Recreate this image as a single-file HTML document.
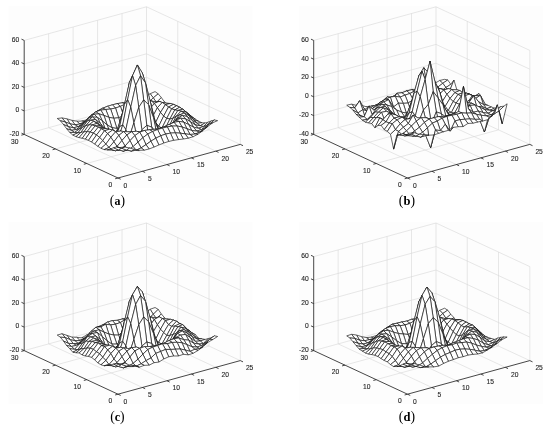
<!DOCTYPE html>
<html><head><meta charset="utf-8"><style>html,body{margin:0;padding:0;background:#fff;}svg{display:block}</style></head>
<body><svg width="550" height="430" viewBox="0 0 550 430">
<rect x="8.5" y="6" width="244" height="182" fill="#fdfdfd"/><rect x="299.0" y="6" width="244" height="182" fill="#fdfdfd"/><rect x="8.5" y="222.2" width="244" height="182" fill="#fdfdfd"/><rect x="299.0" y="222.2" width="244" height="182" fill="#fdfdfd"/>
<path d="M142.46 171.28L48.65 127.69M166.92 164.56L73.11 120.97M191.38 157.84L97.57 114.25M215.84 151.12L122.03 107.53M240.3 144.4L146.49 100.81M86.73 163.47L209.03 129.87M55.46 148.94L177.76 115.34M24.19 134.41L146.49 100.81M48.65 127.69L48.65 33.69M73.11 120.97L73.11 26.97M97.57 114.25L97.57 20.25M122.03 107.53L122.03 13.53M146.49 100.81L146.49 6.81M24.19 110.91L146.49 77.31M24.19 87.41L146.49 53.81M24.19 63.91L146.49 30.31M24.19 40.41L146.49 6.81M240.3 144.4L240.3 50.4M209.03 129.87L209.03 35.87M177.76 115.34L177.76 21.34M240.3 120.9L146.49 77.31M240.3 97.4L146.49 53.81M240.3 73.9L146.49 30.31M240.3 50.4L146.49 6.81" stroke="#d6d6d6" stroke-width="0.6" fill="none"/>
<path d="M118 178L240.3 144.4M118 178L24.19 134.41M24.19 134.41L24.19 40.41M118 178L120.72 179.26M142.46 171.28L145.18 172.54M166.92 164.56L169.64 165.82M191.38 157.84L194.1 159.1M215.84 151.12L218.56 152.38M240.3 144.4L243.02 145.66M118 178L115.11 178.79M86.73 163.47L83.84 164.26M55.46 148.94L52.57 149.73M24.19 134.41L21.3 135.2M24.19 134.41L21.47 133.15M24.19 110.91L21.47 109.65M24.19 87.41L21.47 86.15M24.19 63.91L21.47 62.65M24.19 40.41L21.47 39.15" stroke="#262626" stroke-width="0.85" fill="none"/>
<g fill="#fff" stroke="#111" stroke-width="0.65" stroke-linejoin="round"><path d="M153.3 97.82L158.19 93.83L155.07 91.61L150.17 93.72Z"/><path d="M148.41 102.35L153.3 97.82L150.17 93.72L145.28 97.36Z"/><path d="M156.43 102.46L161.32 97.58L158.19 93.83L153.3 97.82Z"/><path d="M143.52 105.98L148.41 102.35L145.28 97.36L140.39 101.49Z"/><path d="M151.54 106.29L156.43 102.46L153.3 97.82L148.41 102.35Z"/><path d="M159.55 106.2L164.45 101.82L161.32 97.58L156.43 102.46Z"/><path d="M138.62 107.94L143.52 105.98L140.39 101.49L135.5 105.1Z"/><path d="M146.64 107.86L151.54 106.29L148.41 102.35L143.52 105.98Z"/><path d="M154.66 107.97L159.55 106.2L156.43 102.46L151.54 106.29Z"/><path d="M162.68 108.26L167.57 105.54L164.45 101.82L159.55 106.2Z"/><path d="M133.73 108.3L138.62 107.94L135.5 105.1L130.6 107.65Z"/><path d="M141.75 107.24L146.64 107.86L143.52 105.98L138.62 107.94Z"/><path d="M149.77 106.87L154.66 107.97L151.54 106.29L146.64 107.86Z"/><path d="M157.79 107.46L162.68 108.26L159.55 106.2L154.66 107.97Z"/><path d="M165.81 108.74L170.7 108.19L167.57 105.54L162.68 108.26Z"/><path d="M128.84 107.73L133.73 108.3L130.6 107.65L125.71 109.14Z"/><path d="M136.86 105.45L141.75 107.24L138.62 107.94L133.73 108.3Z"/><path d="M144.88 104.2L149.77 106.87L146.64 107.86L141.75 107.24Z"/><path d="M152.9 104.31L157.79 107.46L154.66 107.97L149.77 106.87Z"/><path d="M160.92 105.77L165.81 108.74L162.68 108.26L157.79 107.46Z"/><path d="M168.94 108.28L173.83 109.8L170.7 108.19L165.81 108.74Z"/><path d="M123.95 107.01L128.84 107.73L125.71 109.14L120.82 109.95Z"/><path d="M131.97 103.7L136.86 105.45L133.73 108.3L128.84 107.73Z"/><path d="M139.99 101.84L144.88 104.2L141.75 107.24L136.86 105.45Z"/><path d="M148 101.36L152.9 104.31L149.77 106.87L144.88 104.2Z"/><path d="M156.02 102.06L160.92 105.77L157.79 107.46L152.9 104.31Z"/><path d="M164.04 104.13L168.94 108.28L165.81 108.74L160.92 105.77Z"/><path d="M172.06 107.66L176.95 110.72L173.83 109.8L168.94 108.28Z"/><path d="M119.06 106.67L123.95 107.01L120.82 109.95L115.93 110.54Z"/><path d="M127.08 102.77L131.97 103.7L128.84 107.73L123.95 107.01Z"/><path d="M135.09 101.06L139.99 101.84L136.86 105.45L131.97 103.7Z"/><path d="M143.11 100.78L148 101.36L144.88 104.2L139.99 101.84Z"/><path d="M151.13 100.89L156.02 102.06L152.9 104.31L148 101.36Z"/><path d="M159.15 101.38L164.04 104.13L160.92 105.77L156.02 102.06Z"/><path d="M167.17 103.32L172.06 107.66L168.94 108.28L164.04 104.13Z"/><path d="M175.19 107.43L180.08 111.41L176.95 110.72L172.06 107.66Z"/><path d="M114.16 106.97L119.06 106.67L115.93 110.54L111.04 111.28Z"/><path d="M122.18 102.84L127.08 102.77L123.95 107.01L119.06 106.67Z"/><path d="M130.2 102.03L135.09 101.06L131.97 103.7L127.08 102.77Z"/><path d="M138.22 103.12L143.11 100.78L139.99 101.84L135.09 101.06Z"/><path d="M146.24 103.86L151.13 100.89L148 101.36L143.11 100.78Z"/><path d="M154.26 103.34L159.15 101.38L156.02 102.06L151.13 100.89Z"/><path d="M162.28 102.47L167.17 103.32L164.04 104.13L159.15 101.38Z"/><path d="M170.3 103.49L175.19 107.43L172.06 107.66L167.17 103.32Z"/><path d="M178.32 107.84L183.21 112.26L180.08 111.41L175.19 107.43Z"/><path d="M109.27 107.97L114.16 106.97L111.04 111.28L106.15 112.4Z"/><path d="M117.29 103.64L122.18 102.84L119.06 106.67L114.16 106.97Z"/><path d="M125.31 104.1L130.2 102.03L127.08 102.77L122.18 102.84Z"/><path d="M133.33 107.37L138.22 103.12L135.09 101.06L130.2 102.03Z"/><path d="M141.35 109.99L146.24 103.86L143.11 100.78L138.22 103.12Z"/><path d="M149.37 110.1L154.26 103.34L151.13 100.89L146.24 103.86Z"/><path d="M157.39 107.7L162.28 102.47L159.15 101.38L154.26 103.34Z"/><path d="M165.41 104.64L170.3 103.49L167.17 103.32L162.28 102.47Z"/><path d="M173.42 104.4L178.32 107.84L175.19 107.43L170.3 103.49Z"/><path d="M181.44 108.95L186.34 113.49L183.21 112.26L178.32 107.84Z"/><path d="M104.38 109.66L109.27 107.97L106.15 112.4L101.25 113.97Z"/><path d="M112.4 104.84L117.29 103.64L114.16 106.97L109.27 107.97Z"/><path d="M120.42 106.33L125.31 104.1L122.18 102.84L117.29 103.64Z"/><path d="M128.44 111.94L133.33 107.37L130.2 102.03L125.31 104.1Z"/><path d="M136.46 116.84L141.35 109.99L138.22 103.12L133.33 107.37Z"/><path d="M144.47 118.63L149.37 110.1L146.24 103.86L141.35 109.99Z"/><path d="M152.49 117.06L157.39 107.7L154.26 103.34L149.37 110.1Z"/><path d="M160.51 112.38L165.41 104.64L162.28 102.47L157.39 107.7Z"/><path d="M168.53 106.98L173.42 104.4L170.3 103.49L165.41 104.64Z"/><path d="M176.55 105.72L181.44 108.95L178.32 107.84L173.42 104.4Z"/><path d="M184.57 110.75L189.46 115.17L186.34 113.49L181.44 108.95Z"/><path d="M99.49 112.05L104.38 109.66L101.25 113.97L96.36 115.91Z"/><path d="M107.51 106.32L112.4 104.84L109.27 107.97L104.38 109.66Z"/><path d="M115.53 108.05L120.42 106.33L117.29 103.64L112.4 104.84Z"/><path d="M123.55 115.59L128.44 111.94L125.31 104.1L120.42 106.33Z"/><path d="M131.56 122.31L136.46 116.84L133.33 107.37L128.44 111.94Z"/><path d="M139.58 125.16L144.47 118.63L141.35 109.99L136.46 116.84Z"/><path d="M147.6 125.27L152.49 117.06L149.37 110.1L144.47 118.63Z"/><path d="M155.62 122.64L160.51 112.38L157.39 107.7L152.49 117.06Z"/><path d="M163.64 116.14L168.53 106.98L165.41 104.64L160.51 112.38Z"/><path d="M171.66 108.81L176.55 105.72L173.42 104.4L168.53 106.98Z"/><path d="M179.68 107.3L184.57 110.75L181.44 108.95L176.55 105.72Z"/><path d="M187.7 113.24L192.59 117.22L189.46 115.17L184.57 110.75Z"/><path d="M94.6 115.07L99.49 112.05L96.36 115.91L91.47 118.02Z"/><path d="M102.62 108.21L107.51 106.32L104.38 109.66L99.49 112.05Z"/><path d="M110.63 109.02L115.53 108.05L112.4 104.84L107.51 106.32Z"/><path d="M118.65 117.75L123.55 115.59L120.42 106.33L115.53 108.05Z"/><path d="M126.67 125.8L131.56 122.31L128.44 111.94L123.55 115.59Z"/><path d="M134.69 127.99L139.58 125.16L136.46 116.84L131.56 122.31Z"/><path d="M142.71 127.69L147.6 125.27L144.47 118.63L139.58 125.16Z"/><path d="M150.73 128.21L155.62 122.64L152.49 117.06L147.6 125.27Z"/><path d="M158.75 126.23L163.64 116.14L160.51 112.38L155.62 122.64Z"/><path d="M166.77 118.4L171.66 108.81L168.53 106.98L163.64 116.14Z"/><path d="M174.79 109.89L179.68 107.3L176.55 105.72L171.66 108.81Z"/><path d="M182.81 109.3L187.7 113.24L184.57 110.75L179.68 107.3Z"/><path d="M190.82 116.38L195.72 119.43L192.59 117.22L187.7 113.24Z"/><path d="M89.7 118.49L94.6 115.07L91.47 118.02L86.58 119.9Z"/><path d="M97.72 110.84L102.62 108.21L99.49 112.05L94.6 115.07Z"/><path d="M105.74 109.47L110.63 109.02L107.51 106.32L102.62 108.21Z"/><path d="M113.76 118.28L118.65 117.75L115.53 108.05L110.63 109.02Z"/><path d="M121.78 127.74L126.67 125.8L123.55 115.59L118.65 117.75Z"/><path d="M129.8 128.42L134.69 127.99L131.56 122.31L126.67 125.8Z"/><path d="M137.82 123.98L142.71 127.69L139.58 125.16L134.69 127.99Z"/><path d="M145.84 124.09L150.73 128.21L147.6 125.27L142.71 127.69Z"/><path d="M153.86 128.75L158.75 126.23L155.62 122.64L150.73 128.21Z"/><path d="M161.88 128.28L166.77 118.4L163.64 116.14L158.75 126.23Z"/><path d="M169.89 119.04L174.79 109.89L171.66 108.81L166.77 118.4Z"/><path d="M177.91 110.45L182.81 109.3L179.68 107.3L174.79 109.89Z"/><path d="M185.93 112.04L190.82 116.38L187.7 113.24L182.81 109.3Z"/><path d="M84.81 121.74L89.7 118.49L86.58 119.9L81.69 121.09Z"/><path d="M193.95 119.9L198.84 121.42L195.72 119.43L190.82 116.38Z"/><path d="M92.83 114.45L97.72 110.84L94.6 115.07L89.7 118.49Z"/><path d="M100.85 110.1L105.74 109.47L102.62 108.21L97.72 110.84Z"/><path d="M108.87 117.32L113.76 118.28L110.63 109.02L105.74 109.47Z"/><path d="M116.89 128.48L121.78 127.74L118.65 117.75L113.76 118.28Z"/><path d="M124.91 129.04L129.8 128.42L126.67 125.8L121.78 127.74Z"/><path d="M132.93 118.41L137.82 123.98L134.69 127.99L129.8 128.42Z"/><path d="M140.94 111.74L145.84 124.09L142.71 127.69L137.82 123.98Z"/><path d="M148.96 118.63L153.86 128.75L150.73 128.21L145.84 124.09Z"/><path d="M156.98 129.47L161.88 128.28L158.75 126.23L153.86 128.75Z"/><path d="M165 129.14L169.89 119.04L166.77 118.4L161.88 128.28Z"/><path d="M173.02 118.19L177.91 110.45L174.79 109.89L169.89 119.04Z"/><path d="M181.04 111.19L185.93 112.04L182.81 109.3L177.91 110.45Z"/><path d="M79.92 124.06L84.81 121.74L81.69 121.09L76.79 121.23Z"/><path d="M189.06 115.76L193.95 119.9L190.82 116.38L185.93 112.04Z"/><path d="M87.94 118.89L92.83 114.45L89.7 118.49L84.81 121.74Z"/><path d="M197.08 123.27L201.97 122.72L198.84 121.42L193.95 119.9Z"/><path d="M95.96 111.81L100.85 110.1L97.72 110.84L92.83 114.45Z"/><path d="M103.98 115.44L108.87 117.32L105.74 109.47L100.85 110.1Z"/><path d="M112 127.69L116.89 128.48L113.76 118.28L108.87 117.32Z"/><path d="M120.02 131.11L124.91 129.04L121.78 127.74L116.89 128.48Z"/><path d="M128.03 116.61L132.93 118.41L129.8 128.42L124.91 129.04Z"/><path d="M136.05 98.81L140.94 111.74L137.82 123.98L132.93 118.41Z"/><path d="M144.07 98.92L148.96 118.63L145.84 124.09L140.94 111.74Z"/><path d="M152.09 116.94L156.98 129.47L153.86 128.75L148.96 118.63Z"/><path d="M160.11 131.66L165 129.14L161.88 128.28L156.98 129.47Z"/><path d="M168.13 128.45L173.02 118.19L169.89 119.04L165 129.14Z"/><path d="M176.15 116.42L181.04 111.19L177.91 110.45L173.02 118.19Z"/><path d="M75.03 124.8L79.92 124.06L76.79 121.23L71.9 120.31Z"/><path d="M184.17 113.01L189.06 115.76L185.93 112.04L181.04 111.19Z"/><path d="M83.05 123.37L87.94 118.89L84.81 121.74L79.92 124.06Z"/><path d="M192.19 120.3L197.08 123.27L193.95 119.9L189.06 115.76Z"/><path d="M91.07 115.28L95.96 111.81L92.83 114.45L87.94 118.89Z"/><path d="M200.21 125.7L205.1 122.97L201.97 122.72L197.08 123.27Z"/><path d="M99.09 113.87L103.98 115.44L100.85 110.1L95.96 111.81Z"/><path d="M107.1 124.9L112 127.69L108.87 117.32L103.98 115.44Z"/><path d="M115.12 133.37L120.02 131.11L116.89 128.48L112 127.69Z"/><path d="M123.14 121.1L128.03 116.61L124.91 129.04L120.02 131.11Z"/><path d="M131.16 94.12L136.05 98.81L132.93 118.41L128.03 116.61Z"/><path d="M139.18 79.9L144.07 98.92L140.94 111.74L136.05 98.81Z"/><path d="M147.2 94.33L152.09 116.94L148.96 118.63L144.07 98.92Z"/><path d="M155.22 121.54L160.11 131.66L156.98 129.47L152.09 116.94Z"/><path d="M163.24 134.02L168.13 128.45L165 129.14L160.11 131.66Z"/><path d="M171.26 125.77L176.15 116.42L173.02 118.19L168.13 128.45Z"/><path d="M70.14 123.85L75.03 124.8L71.9 120.31L67.01 118.87Z"/><path d="M179.27 114.96L184.17 113.01L181.04 111.19L176.15 116.42Z"/><path d="M78.16 126.68L83.05 123.37L79.92 124.06L75.03 124.8Z"/><path d="M187.29 116.59L192.19 120.3L189.06 115.76L184.17 113.01Z"/><path d="M86.17 120.33L91.07 115.28L87.94 118.89L83.05 123.37Z"/><path d="M195.31 124.9L200.21 125.7L197.08 123.27L192.19 120.3Z"/><path d="M94.19 114.22L99.09 113.87L95.96 111.81L91.07 115.28Z"/><path d="M203.33 126.54L208.22 122.16L205.1 122.97L200.21 125.7Z"/><path d="M102.21 120.75L107.1 124.9L103.98 115.44L99.09 113.87Z"/><path d="M110.23 133.22L115.12 133.37L112 127.69L107.1 124.9Z"/><path d="M118.25 129.35L123.14 121.1L120.02 131.11L115.12 133.37Z"/><path d="M126.27 101.5L131.16 94.12L128.03 116.61L123.14 121.1Z"/><path d="M134.29 72.84L139.18 79.9L136.05 98.81L131.16 94.12Z"/><path d="M142.31 72.95L147.2 94.33L144.07 98.92L139.18 79.9Z"/><path d="M150.33 101.83L155.22 121.54L152.09 116.94L147.2 94.33Z"/><path d="M158.34 129.9L163.24 134.02L160.11 131.66L155.22 121.54Z"/><path d="M166.36 133.98L171.26 125.77L168.13 128.45L163.24 134.02Z"/><path d="M65.24 122.01L70.14 123.85L67.01 118.87L62.12 117.91Z"/><path d="M174.38 121.73L179.27 114.96L176.15 116.42L171.26 125.77Z"/><path d="M73.26 127.79L78.16 126.68L75.03 124.8L70.14 123.85Z"/><path d="M182.4 115.42L187.29 116.59L184.17 113.01L179.27 114.96Z"/><path d="M81.28 125.68L86.17 120.33L83.05 123.37L78.16 126.68Z"/><path d="M190.42 121.74L195.31 124.9L192.19 120.3L187.29 116.59Z"/><path d="M89.3 117.49L94.19 114.22L91.07 115.28L86.17 120.33Z"/><path d="M198.44 128.31L203.33 126.54L200.21 125.7L195.31 124.9Z"/><path d="M97.32 117.3L102.21 120.75L99.09 113.87L94.19 114.22Z"/><path d="M206.46 125.71L211.35 120.83L208.22 122.16L203.33 126.54Z"/><path d="M105.34 129.38L110.23 133.22L107.1 124.9L102.21 120.75Z"/><path d="M113.36 135.75L118.25 129.35L115.12 133.37L110.23 133.22Z"/><path d="M121.38 117.12L126.27 101.5L123.14 121.1L118.25 129.35Z"/><path d="M129.4 82.59L134.29 72.84L131.16 94.12L126.27 101.5Z"/><path d="M137.42 64.98L142.31 72.95L139.18 79.9L134.29 72.84Z"/><path d="M145.43 82.81L150.33 101.83L147.2 94.33L142.31 72.95Z"/><path d="M153.45 117.55L158.34 129.9L155.22 121.54L150.33 101.83Z"/><path d="M161.47 136.41L166.36 133.98L163.24 134.02L158.34 129.9Z"/><path d="M60.35 120.71L65.24 122.01L62.12 117.91L57.22 118.49Z"/><path d="M169.49 130.26L174.38 121.73L171.26 125.77L166.36 133.98Z"/><path d="M68.37 126.65L73.26 127.79L70.14 123.85L65.24 122.01Z"/><path d="M177.51 118.39L182.4 115.42L179.27 114.96L174.38 121.73Z"/><path d="M76.39 129.48L81.28 125.68L78.16 126.68L73.26 127.79Z"/><path d="M185.53 118.8L190.42 121.74L187.29 116.59L182.4 115.42Z"/><path d="M84.41 123.12L89.3 117.49L86.17 120.33L81.28 125.68Z"/><path d="M193.55 127.21L198.44 128.31L195.31 124.9L190.42 121.74Z"/><path d="M92.43 117.02L97.32 117.3L94.19 114.22L89.3 117.49Z"/><path d="M201.57 129.54L206.46 125.71L203.33 126.54L198.44 128.31Z"/><path d="M100.45 123.54L105.34 129.38L102.21 120.75L97.32 117.3Z"/><path d="M209.59 123.97L214.48 119.98L211.35 120.83L206.46 125.71Z"/><path d="M108.47 136.02L113.36 135.75L110.23 133.22L105.34 129.38Z"/><path d="M116.48 132.15L121.38 117.12L118.25 129.35L113.36 135.75Z"/><path d="M124.5 104.3L129.4 82.59L126.27 101.5L121.38 117.12Z"/><path d="M132.52 75.64L137.42 64.98L134.29 72.84L129.4 82.59Z"/><path d="M140.54 75.75L145.43 82.81L142.31 72.95L137.42 64.98Z"/><path d="M148.56 104.62L153.45 117.55L150.33 101.83L145.43 82.81Z"/><path d="M156.58 132.7L161.47 136.41L158.34 129.9L153.45 117.55Z"/><path d="M164.6 136.78L169.49 130.26L166.36 133.98L161.47 136.41Z"/><path d="M63.48 124.46L68.37 126.65L65.24 122.01L60.35 120.71Z"/><path d="M172.62 124.52L177.51 118.39L174.38 121.73L169.49 130.26Z"/><path d="M71.5 130.39L76.39 129.48L73.26 127.79L68.37 126.65Z"/><path d="M180.64 118.22L185.53 118.8L182.4 115.42L177.51 118.39Z"/><path d="M79.52 128.96L84.41 123.12L81.28 125.68L76.39 129.48Z"/><path d="M188.66 124.54L193.55 127.21L190.42 121.74L185.53 118.8Z"/><path d="M87.54 120.87L92.43 117.02L89.3 117.49L84.41 123.12Z"/><path d="M196.68 131.11L201.57 129.54L198.44 128.31L193.55 127.21Z"/><path d="M95.56 119.46L100.45 123.54L97.32 117.3L92.43 117.02Z"/><path d="M204.69 128.5L209.59 123.97L206.46 125.71L201.57 129.54Z"/><path d="M103.57 130.5L108.47 136.02L105.34 129.38L100.45 123.54Z"/><path d="M212.71 122.78L217.61 120.67L214.48 119.98L209.59 123.97Z"/><path d="M111.59 138.96L116.48 132.15L113.36 135.75L108.47 136.02Z"/><path d="M119.61 126.7L124.5 104.3L121.38 117.12L116.48 132.15Z"/><path d="M127.63 99.71L132.52 75.64L129.4 82.59L124.5 104.3Z"/><path d="M135.65 85.5L140.54 75.75L137.42 64.98L132.52 75.64Z"/><path d="M143.67 99.93L148.56 104.62L145.43 82.81L140.54 75.75Z"/><path d="M151.69 127.13L156.58 132.7L153.45 117.55L148.56 104.62Z"/><path d="M159.71 139.62L164.6 136.78L161.47 136.41L156.58 132.7Z"/><path d="M167.73 131.37L172.62 124.52L169.49 130.26L164.6 136.78Z"/><path d="M66.61 128.7L71.5 130.39L68.37 126.65L63.48 124.46Z"/><path d="M175.75 120.55L180.64 118.22L177.51 118.39L172.62 124.52Z"/><path d="M74.62 132.46L79.52 128.96L76.39 129.48L71.5 130.39Z"/><path d="M183.76 122.18L188.66 124.54L185.53 118.8L180.64 118.22Z"/><path d="M82.64 127.28L87.54 120.87L84.41 123.12L79.52 128.96Z"/><path d="M191.78 130.49L196.68 131.11L193.55 127.21L188.66 124.54Z"/><path d="M90.66 120.2L95.56 119.46L92.43 117.02L87.54 120.87Z"/><path d="M199.8 132.14L204.69 128.5L201.57 129.54L196.68 131.11Z"/><path d="M98.68 123.83L103.57 130.5L100.45 123.54L95.56 119.46Z"/><path d="M207.82 126.42L212.71 122.78L209.59 123.97L204.69 128.5Z"/><path d="M106.7 136.08L111.59 138.96L108.47 136.02L103.57 130.5Z"/><path d="M114.72 139.5L119.61 126.7L116.48 132.15L111.59 138.96Z"/><path d="M122.74 125L127.63 99.71L124.5 104.3L119.61 126.7Z"/><path d="M130.76 107.2L135.65 85.5L132.52 75.64L127.63 99.71Z"/><path d="M138.78 107.31L143.67 99.93L140.54 75.75L135.65 85.5Z"/><path d="M146.8 125.33L151.69 127.13L148.56 104.62L143.67 99.93Z"/><path d="M154.81 140.05L159.71 139.62L156.58 132.7L151.69 127.13Z"/><path d="M162.83 136.84L167.73 131.37L164.6 136.78L159.71 139.62Z"/><path d="M170.85 124.81L175.75 120.55L172.62 124.52L167.73 131.37Z"/><path d="M69.73 132.42L74.62 132.46L71.5 130.39L66.61 128.7Z"/><path d="M178.87 121.4L183.76 122.18L180.64 118.22L175.75 120.55Z"/><path d="M77.75 132.93L82.64 127.28L79.52 128.96L74.62 132.46Z"/><path d="M186.89 128.69L191.78 130.49L188.66 124.54L183.76 122.18Z"/><path d="M85.77 125.64L90.66 120.2L87.54 120.87L82.64 127.28Z"/><path d="M194.91 134.09L199.8 132.14L196.68 131.11L191.78 130.49Z"/><path d="M93.79 121.29L98.68 123.83L95.56 119.46L90.66 120.2Z"/><path d="M202.93 130.55L207.82 126.42L204.69 128.5L199.8 132.14Z"/><path d="M101.81 128.51L106.7 136.08L103.57 130.5L98.68 123.83Z"/><path d="M109.83 139.67L114.72 139.5L111.59 138.96L106.7 136.08Z"/><path d="M117.85 140.22L122.74 125L119.61 126.7L114.72 139.5Z"/><path d="M125.87 129.6L130.76 107.2L127.63 99.71L122.74 125Z"/><path d="M133.89 122.93L138.78 107.31L135.65 85.5L130.76 107.2Z"/><path d="M141.9 129.82L146.8 125.33L143.67 99.93L138.78 107.31Z"/><path d="M149.92 140.66L154.81 140.05L151.69 127.13L146.8 125.33Z"/><path d="M157.94 140.33L162.83 136.84L159.71 139.62L154.81 140.05Z"/><path d="M165.96 129.38L170.85 124.81L167.73 131.37L162.83 136.84Z"/><path d="M173.98 122.38L178.87 121.4L175.75 120.55L170.85 124.81Z"/><path d="M72.86 135.07L77.75 132.93L74.62 132.46L69.73 132.42Z"/><path d="M182 126.94L186.89 128.69L183.76 122.18L178.87 121.4Z"/><path d="M80.88 132.47L85.77 125.64L82.64 127.28L77.75 132.93Z"/><path d="M190.02 134.45L194.91 134.09L191.78 130.49L186.89 128.69Z"/><path d="M88.9 124.82L93.79 121.29L90.66 120.2L85.77 125.64Z"/><path d="M198.04 134.16L202.93 130.55L199.8 132.14L194.91 134.09Z"/><path d="M96.92 123.46L101.81 128.51L98.68 123.83L93.79 121.29Z"/><path d="M104.94 132.27L109.83 139.67L106.7 136.08L101.81 128.51Z"/><path d="M112.96 141.72L117.85 140.22L114.72 139.5L109.83 139.67Z"/><path d="M120.97 142.41L125.87 129.6L122.74 125L117.85 140.22Z"/><path d="M128.99 137.96L133.89 122.93L130.76 107.2L125.87 129.6Z"/><path d="M137.01 138.07L141.9 129.82L138.78 107.31L133.89 122.93Z"/><path d="M145.03 142.73L149.92 140.66L146.8 125.33L141.9 129.82Z"/><path d="M153.05 142.27L157.94 140.33L154.81 140.05L149.92 140.66Z"/><path d="M161.07 133.03L165.96 129.38L162.83 136.84L157.94 140.33Z"/><path d="M169.09 124.44L173.98 122.38L170.85 124.81L165.96 129.38Z"/><path d="M177.11 126.02L182 126.94L178.87 121.4L173.98 122.38Z"/><path d="M75.99 136.68L80.88 132.47L77.75 132.93L72.86 135.07Z"/><path d="M185.13 133.89L190.02 134.45L186.89 128.69L182 126.94Z"/><path d="M84.01 131.85L88.9 124.82L85.77 125.64L80.88 132.47Z"/><path d="M193.14 136.71L198.04 134.16L194.91 134.09L190.02 134.45Z"/><path d="M92.02 125L96.92 123.46L93.79 121.29L88.9 124.82Z"/><path d="M100.04 125.8L104.94 132.27L101.81 128.51L96.92 123.46Z"/><path d="M108.06 134.53L112.96 141.72L109.83 139.67L104.94 132.27Z"/><path d="M116.08 142.58L120.97 142.41L117.85 140.22L112.96 141.72Z"/><path d="M124.1 144.77L128.99 137.96L125.87 129.6L120.97 142.41Z"/><path d="M132.12 144.47L137.01 138.07L133.89 122.93L128.99 137.96Z"/><path d="M140.14 144.99L145.03 142.73L141.9 129.82L137.01 138.07Z"/><path d="M148.16 143.01L153.05 142.27L149.92 140.66L145.03 142.73Z"/><path d="M156.18 135.19L161.07 133.03L157.94 140.33L153.05 142.27Z"/><path d="M164.2 126.67L169.09 124.44L165.96 129.38L161.07 133.03Z"/><path d="M172.22 126.09L177.11 126.02L173.98 122.38L169.09 124.44Z"/><path d="M180.23 133.16L185.13 133.89L182 126.94L177.11 126.02Z"/><path d="M79.11 137.6L84.01 131.85L80.88 132.47L75.99 136.68Z"/><path d="M188.25 138.2L193.14 136.71L190.02 134.45L185.13 133.89Z"/><path d="M87.13 131.62L92.02 125L88.9 124.82L84.01 131.85Z"/><path d="M95.15 125.9L100.04 125.8L96.92 123.46L92.02 125Z"/><path d="M103.17 127.63L108.06 134.53L104.94 132.27L100.04 125.8Z"/><path d="M111.19 135.17L116.08 142.58L112.96 141.72L108.06 134.53Z"/><path d="M119.21 141.89L124.1 144.77L120.97 142.41L116.08 142.58Z"/><path d="M127.23 144.74L132.12 144.47L128.99 137.96L124.1 144.77Z"/><path d="M135.25 144.84L140.14 144.99L137.01 138.07L132.12 144.47Z"/><path d="M143.27 142.22L148.16 143.01L145.03 142.73L140.14 144.99Z"/><path d="M151.29 135.72L156.18 135.19L153.05 142.27L148.16 143.01Z"/><path d="M159.3 128.39L164.2 126.67L161.07 133.03L156.18 135.19Z"/><path d="M167.32 126.88L172.22 126.09L169.09 124.44L164.2 126.67Z"/><path d="M175.34 132.82L180.23 133.16L177.11 126.02L172.22 126.09Z"/><path d="M183.36 139.01L188.25 138.2L185.13 133.89L180.23 133.16Z"/><path d="M82.24 138.29L87.13 131.62L84.01 131.85L79.11 137.6Z"/><path d="M90.26 132.03L95.15 125.9L92.02 125L87.13 131.62Z"/><path d="M98.28 127.22L103.17 127.63L100.04 125.8L95.15 125.9Z"/><path d="M106.3 128.7L111.19 135.17L108.06 134.53L103.17 127.63Z"/><path d="M114.32 134.32L119.21 141.89L116.08 142.58L111.19 135.17Z"/><path d="M122.34 139.21L127.23 144.74L124.1 144.77L119.21 141.89Z"/><path d="M130.35 141.01L135.25 144.84L132.12 144.47L127.23 144.74Z"/><path d="M138.37 139.43L143.27 142.22L140.14 144.99L135.25 144.84Z"/><path d="M146.39 134.75L151.29 135.72L148.16 143.01L143.27 142.22Z"/><path d="M154.41 129.36L159.3 128.39L156.18 135.19L151.29 135.72Z"/><path d="M162.43 128.09L167.32 126.88L164.2 126.67L159.3 128.39Z"/><path d="M170.45 133.12L175.34 132.82L172.22 126.09L167.32 126.88Z"/><path d="M178.47 139.6L183.36 139.01L180.23 133.16L175.34 132.82Z"/><path d="M85.37 139.14L90.26 132.03L87.13 131.62L82.24 138.29Z"/><path d="M93.39 133.14L98.28 127.22L95.15 125.9L90.26 132.03Z"/><path d="M101.41 128.81L106.3 128.7L103.17 127.63L98.28 127.22Z"/><path d="M109.43 129.27L114.32 134.32L111.19 135.17L106.3 128.7Z"/><path d="M117.44 132.54L122.34 139.21L119.21 141.89L114.32 134.32Z"/><path d="M125.46 135.17L130.35 141.01L127.23 144.74L122.34 139.21Z"/><path d="M133.48 135.28L138.37 139.43L135.25 144.84L130.35 141.01Z"/><path d="M141.5 132.87L146.39 134.75L143.27 142.22L138.37 139.43Z"/><path d="M149.52 129.81L154.41 129.36L151.29 135.72L146.39 134.75Z"/><path d="M157.54 129.57L162.43 128.09L159.3 128.39L154.41 129.36Z"/><path d="M165.56 134.12L170.45 133.12L167.32 126.88L162.43 128.09Z"/><path d="M173.58 140.34L178.47 139.6L175.34 132.82L170.45 133.12Z"/><path d="M88.5 140.37L93.39 133.14L90.26 132.03L85.37 139.14Z"/><path d="M96.51 134.94L101.41 128.81L98.28 127.22L93.39 133.14Z"/><path d="M104.53 130.81L109.43 129.27L106.3 128.7L101.41 128.81Z"/><path d="M112.55 130L117.44 132.54L114.32 134.32L109.43 129.27Z"/><path d="M120.57 131.09L125.46 135.17L122.34 139.21L117.44 132.54Z"/><path d="M128.59 131.83L133.48 135.28L130.35 141.01L125.46 135.17Z"/><path d="M136.61 131.31L141.5 132.87L138.37 139.43L133.48 135.28Z"/><path d="M144.63 130.44L149.52 129.81L146.39 134.75L141.5 132.87Z"/><path d="M152.65 131.46L157.54 129.57L154.41 129.36L149.52 129.81Z"/><path d="M160.67 135.81L165.56 134.12L162.43 128.09L157.54 129.57Z"/><path d="M168.69 141.46L173.58 140.34L170.45 133.12L165.56 134.12Z"/><path d="M91.62 142.05L96.51 134.94L93.39 133.14L88.5 140.37Z"/><path d="M99.64 137.44L104.53 130.81L101.41 128.81L96.51 134.94Z"/><path d="M107.66 133.54L112.55 130L109.43 129.27L104.53 130.81Z"/><path d="M115.68 131.82L120.57 131.09L117.44 132.54L112.55 130Z"/><path d="M123.7 131.55L128.59 131.83L125.46 135.17L120.57 131.09Z"/><path d="M131.72 131.66L136.61 131.31L133.48 135.28L128.59 131.83Z"/><path d="M139.74 132.15L144.63 130.44L141.5 132.87L136.61 131.31Z"/><path d="M147.75 134.09L152.65 131.46L149.52 129.81L144.63 130.44Z"/><path d="M155.77 138.2L160.67 135.81L157.54 129.57L152.65 131.46Z"/><path d="M163.79 143.03L168.69 141.46L165.56 134.12L160.67 135.81Z"/><path d="M94.75 144.1L99.64 137.44L96.51 134.94L91.62 142.05Z"/><path d="M102.77 140.57L107.66 133.54L104.53 130.81L99.64 137.44Z"/><path d="M110.79 137.26L115.68 131.82L112.55 130L107.66 133.54Z"/><path d="M118.81 135.4L123.7 131.55L120.57 131.09L115.68 131.82Z"/><path d="M126.83 134.93L131.72 131.66L128.59 131.83L123.7 131.55Z"/><path d="M134.84 135.62L139.74 132.15L136.61 131.31L131.72 131.66Z"/><path d="M142.86 137.7L147.75 134.09L144.63 130.44L139.74 132.15Z"/><path d="M150.88 141.23L155.77 138.2L152.65 131.46L147.75 134.09Z"/><path d="M158.9 144.97L163.79 143.03L160.67 135.81L155.77 138.2Z"/><path d="M97.88 146.31L102.77 140.57L99.64 137.44L94.75 144.1Z"/><path d="M105.9 144.1L110.79 137.26L107.66 133.54L102.77 140.57Z"/><path d="M113.91 141.81L118.81 135.4L115.68 131.82L110.79 137.26Z"/><path d="M121.93 140.56L126.83 134.93L123.7 131.55L118.81 135.4Z"/><path d="M129.95 140.67L134.84 135.62L131.72 131.66L126.83 134.93Z"/><path d="M137.97 142.13L142.86 137.7L139.74 132.15L134.84 135.62Z"/><path d="M145.99 144.64L150.88 141.23L147.75 134.09L142.86 137.7Z"/><path d="M154.01 147.08L158.9 144.97L155.77 138.2L150.88 141.23Z"/><path d="M101 148.3L105.9 144.1L102.77 140.57L97.88 146.31Z"/><path d="M109.02 147.46L113.91 141.81L110.79 137.26L105.9 144.1Z"/><path d="M117.04 146.4L121.93 140.56L118.81 135.4L113.91 141.81Z"/><path d="M125.06 146.02L129.95 140.67L126.83 134.93L121.93 140.56Z"/><path d="M133.08 146.62L137.97 142.13L134.84 135.62L129.95 140.67Z"/><path d="M141.1 147.89L145.99 144.64L142.86 137.7L137.97 142.13Z"/><path d="M149.12 148.96L154.01 147.08L150.88 141.23L145.99 144.64Z"/><path d="M104.13 149.6L109.02 147.46L105.9 144.1L101 148.3Z"/><path d="M112.15 149.89L117.04 146.4L113.91 141.81L109.02 147.46Z"/><path d="M120.17 149.82L125.06 146.02L121.93 140.56L117.04 146.4Z"/><path d="M128.19 149.93L133.08 146.62L129.95 140.67L125.06 146.02Z"/><path d="M136.21 150.22L141.1 147.89L137.97 142.13L133.08 146.62Z"/><path d="M144.22 150.15L149.12 148.96L145.99 144.64L141.1 147.89Z"/><path d="M107.26 149.85L112.15 149.89L109.02 147.46L104.13 149.6Z"/><path d="M115.28 150.73L120.17 149.82L117.04 146.4L112.15 149.89Z"/><path d="M123.29 151.04L128.19 149.93L125.06 146.02L120.17 149.82Z"/><path d="M131.31 150.95L136.21 150.22L133.08 146.62L128.19 149.93Z"/><path d="M139.33 150.29L144.22 150.15L141.1 147.89L136.21 150.22Z"/><path d="M110.38 149.04L115.28 150.73L112.15 149.89L107.26 149.85Z"/><path d="M118.4 149.9L123.29 151.04L120.17 149.82L115.28 150.73Z"/><path d="M126.42 150.01L131.31 150.95L128.19 149.93L123.29 151.04Z"/><path d="M134.44 149.37L139.33 150.29L136.21 150.22L131.31 150.95Z"/><path d="M113.51 147.71L118.4 149.9L115.28 150.73L110.38 149.04Z"/><path d="M121.53 148.16L126.42 150.01L123.29 151.04L118.4 149.9Z"/><path d="M129.55 147.93L134.44 149.37L131.31 150.95L126.42 150.01Z"/><path d="M116.64 146.86L121.53 148.16L118.4 149.9L113.51 147.71Z"/><path d="M124.66 146.97L129.55 147.93L126.42 150.01L121.53 148.16Z"/><path d="M119.77 147.55L124.66 146.97L121.53 148.16L116.64 146.86Z"/></g>
<g font-family="&quot;Liberation Sans&quot;, sans-serif" font-size="6.7" fill="#262626" stroke="#262626" stroke-width="0.12"><text x="19.19" y="135.72" text-anchor="end">-20</text><text x="19.19" y="112.22" text-anchor="end">0</text><text x="19.19" y="88.72" text-anchor="end">20</text><text x="19.19" y="65.22" text-anchor="end">40</text><text x="19.19" y="41.72" text-anchor="end">60</text><text x="112.3" y="187.21" text-anchor="end">0</text><text x="81.03" y="172.68" text-anchor="end">10</text><text x="49.76" y="158.15" text-anchor="end">20</text><text x="18.49" y="143.62" text-anchor="end">30</text><text x="123.6" y="187.61">0</text><text x="148.06" y="180.89">5</text><text x="172.52" y="174.17">10</text><text x="196.98" y="167.45">15</text><text x="221.44" y="160.73">20</text><text x="245.9" y="154.01">25</text></g>
<text transform="translate(117.4 204.5) scale(0.98 1)" text-anchor="middle" font-family="&quot;Liberation Serif&quot;, serif" font-size="14.0" fill="#000">(<tspan font-weight="bold" font-size="12.2">a</tspan>)</text><path d="M431.96 171.28L338.15 127.69M456.42 164.56L362.61 120.97M480.88 157.84L387.07 114.25M505.34 151.12L411.53 107.53M529.8 144.4L435.99 100.81M376.23 163.47L498.53 129.87M344.96 148.94L467.26 115.34M313.69 134.41L435.99 100.81M338.15 127.69L338.15 33.69M362.61 120.97L362.61 26.97M387.07 114.25L387.07 20.25M411.53 107.53L411.53 13.53M435.99 100.81L435.99 6.81M313.69 115.61L435.99 82.01M313.69 96.81L435.99 63.21M313.69 78.01L435.99 44.41M313.69 59.21L435.99 25.61M313.69 40.41L435.99 6.81M529.8 144.4L529.8 50.4M498.53 129.87L498.53 35.87M467.26 115.34L467.26 21.34M529.8 125.6L435.99 82.01M529.8 106.8L435.99 63.21M529.8 88L435.99 44.41M529.8 69.2L435.99 25.61M529.8 50.4L435.99 6.81" stroke="#d6d6d6" stroke-width="0.6" fill="none"/>
<path d="M407.5 178L529.8 144.4M407.5 178L313.69 134.41M313.69 134.41L313.69 40.41M407.5 178L410.22 179.26M431.96 171.28L434.68 172.54M456.42 164.56L459.14 165.82M480.88 157.84L483.6 159.1M505.34 151.12L508.06 152.38M529.8 144.4L532.52 145.66M407.5 178L404.61 178.79M376.23 163.47L373.34 164.26M344.96 148.94L342.07 149.73M313.69 134.41L310.8 135.2M313.69 134.41L310.97 133.15M313.69 115.61L310.97 114.35M313.69 96.81L310.97 95.55M313.69 78.01L310.97 76.75M313.69 59.21L310.97 57.95M313.69 40.41L310.97 39.15" stroke="#262626" stroke-width="0.85" fill="none"/>
<g fill="#fff" stroke="#111" stroke-width="0.65" stroke-linejoin="round"><path d="M442.8 83.31L447.69 79.96L444.57 79.34L439.67 80.49Z"/><path d="M437.91 86.99L442.8 83.31L439.67 80.49L434.78 83.39Z"/><path d="M445.93 87.47L450.82 84.3L447.69 79.96L442.8 83.31Z"/><path d="M433.02 91.3L437.91 86.99L434.78 83.39L429.89 86.07Z"/><path d="M441.03 91.73L445.93 87.47L442.8 83.31L437.91 86.99Z"/><path d="M449.05 92.3L453.95 80.08L450.82 84.3L445.93 87.47Z"/><path d="M428.12 92.96L433.02 91.3L429.89 86.07L425 90.72Z"/><path d="M436.14 92.31L441.03 91.73L437.91 86.99L433.02 91.3Z"/><path d="M444.16 93.05L449.05 92.3L445.93 87.47L441.03 91.73Z"/><path d="M452.18 91.95L457.07 90.59L453.95 80.08L449.05 92.3Z"/><path d="M423.23 93.71L428.12 92.96L425 90.72L420.11 91.89Z"/><path d="M431.25 96.47L436.14 92.31L433.02 91.3L428.12 92.96Z"/><path d="M439.27 92.08L444.16 93.05L441.03 91.73L436.14 92.31Z"/><path d="M447.29 92.99L452.18 91.95L449.05 92.3L444.16 93.05Z"/><path d="M455.31 93.63L460.2 93.39L457.07 90.59L452.18 91.95Z"/><path d="M418.34 93.88L423.23 93.71L420.11 91.89L415.21 94Z"/><path d="M426.36 91.13L431.25 96.47L428.12 92.96L423.23 93.71Z"/><path d="M434.38 90.03L439.27 92.08L436.14 92.31L431.25 96.47Z"/><path d="M442.4 90.09L447.29 92.99L444.16 93.05L439.27 92.08Z"/><path d="M450.42 91.35L455.31 93.63L452.18 91.95L447.29 92.99Z"/><path d="M458.44 92.84L463.33 95.26L460.2 93.39L455.31 93.63Z"/><path d="M413.45 91.8L418.34 93.88L415.21 94L410.32 95.4Z"/><path d="M421.47 90.84L426.36 91.13L423.23 93.71L418.34 93.88Z"/><path d="M429.49 88.3L434.38 90.03L431.25 96.47L426.36 91.13Z"/><path d="M437.5 88.04L442.4 90.09L439.27 92.08L434.38 90.03Z"/><path d="M445.52 89.63L450.42 91.35L447.29 92.99L442.4 90.09Z"/><path d="M453.54 93.68L458.44 92.84L455.31 93.63L450.42 91.35Z"/><path d="M461.56 93.93L466.45 95.59L463.33 95.26L458.44 92.84Z"/><path d="M408.56 92.89L413.45 91.8L410.32 95.4L405.43 95.22Z"/><path d="M416.57 90.05L421.47 90.84L418.34 93.88L413.45 91.8Z"/><path d="M424.59 83.75L429.49 88.3L426.36 91.13L421.47 90.84Z"/><path d="M432.61 88.54L437.5 88.04L434.38 90.03L429.49 88.3Z"/><path d="M440.63 88.75L445.52 89.63L442.4 90.09L437.5 88.04Z"/><path d="M448.65 88.61L453.54 93.68L450.42 91.35L445.52 89.63Z"/><path d="M456.67 89.83L461.56 93.93L458.44 92.84L453.54 93.68Z"/><path d="M464.69 98.6L469.58 97.26L466.45 95.59L461.56 93.93Z"/><path d="M403.66 93.05L408.56 92.89L405.43 95.22L400.54 96.52Z"/><path d="M411.68 89.72L416.57 90.05L413.45 91.8L408.56 92.89Z"/><path d="M419.7 90.3L424.59 83.75L421.47 90.84L416.57 90.05Z"/><path d="M427.72 89.46L432.61 88.54L429.49 88.3L424.59 83.75Z"/><path d="M435.74 90.41L440.63 88.75L437.5 88.04L432.61 88.54Z"/><path d="M443.76 90.07L448.65 88.61L445.52 89.63L440.63 88.75Z"/><path d="M451.78 89.54L456.67 89.83L453.54 93.68L448.65 88.61Z"/><path d="M459.8 90.54L464.69 98.6L461.56 93.93L456.67 89.83Z"/><path d="M467.82 93.9L472.71 98.07L469.58 97.26L464.69 98.6Z"/><path d="M398.77 94.1L403.66 93.05L400.54 96.52L395.64 97.92Z"/><path d="M406.79 90.89L411.68 89.72L408.56 92.89L403.66 93.05Z"/><path d="M414.81 90.88L419.7 90.3L416.57 90.05L411.68 89.72Z"/><path d="M422.83 93.88L427.72 89.46L424.59 83.75L419.7 90.3Z"/><path d="M430.85 95.59L435.74 90.41L432.61 88.54L427.72 89.46Z"/><path d="M438.87 94.58L443.76 90.07L440.63 88.75L435.74 90.41Z"/><path d="M446.89 94.26L451.78 89.54L448.65 88.61L443.76 90.07Z"/><path d="M454.91 92.58L459.8 90.54L456.67 89.83L451.78 89.54Z"/><path d="M462.92 92.8L467.82 93.9L464.69 98.6L459.8 90.54Z"/><path d="M470.94 94.73L475.84 98.16L472.71 98.07L467.82 93.9Z"/><path d="M393.88 96.03L398.77 94.1L395.64 97.92L390.75 98.55Z"/><path d="M401.9 92.79L406.79 90.89L403.66 93.05L398.77 94.1Z"/><path d="M409.92 93.51L414.81 90.88L411.68 89.72L406.79 90.89Z"/><path d="M417.94 97.9L422.83 93.88L419.7 90.3L414.81 90.88Z"/><path d="M425.96 96.57L430.85 95.59L427.72 89.46L422.83 93.88Z"/><path d="M433.98 103.58L438.87 94.58L435.74 90.41L430.85 95.59Z"/><path d="M441.99 102.14L446.89 94.26L443.76 90.07L438.87 94.58Z"/><path d="M450.01 98.4L454.91 92.58L451.78 89.54L446.89 94.26Z"/><path d="M458.03 94.46L462.92 92.8L459.8 90.54L454.91 92.58Z"/><path d="M466.05 93.1L470.94 94.73L467.82 93.9L462.92 92.8Z"/><path d="M474.07 96.67L478.96 93.52L475.84 98.16L470.94 94.73Z"/><path d="M388.99 97.99L393.88 96.03L390.75 98.55L385.86 101.02Z"/><path d="M397.01 93.28L401.9 92.79L398.77 94.1L393.88 96.03Z"/><path d="M405.03 95.12L409.92 93.51L406.79 90.89L401.9 92.79Z"/><path d="M413.05 99.81L417.94 97.9L414.81 90.88L409.92 93.51Z"/><path d="M421.06 106.1L425.96 96.57L422.83 93.88L417.94 97.9Z"/><path d="M429.08 111.67L433.98 103.58L430.85 95.59L425.96 96.57Z"/><path d="M437.1 108.43L441.99 102.14L438.87 94.58L433.98 103.58Z"/><path d="M445.12 106.45L450.01 98.4L446.89 94.26L441.99 102.14Z"/><path d="M453.14 101.59L458.03 94.46L454.91 92.58L450.01 98.4Z"/><path d="M461.16 96.2L466.05 93.1L462.92 92.8L458.03 94.46Z"/><path d="M469.18 94.17L474.07 96.67L470.94 94.73L466.05 93.1Z"/><path d="M477.2 95.65L482.09 102.27L478.96 93.52L474.07 96.67Z"/><path d="M384.1 102.07L388.99 97.99L385.86 101.02L380.97 102.48Z"/><path d="M392.12 100.86L397.01 93.28L393.88 96.03L388.99 97.99Z"/><path d="M400.13 97.08L405.03 95.12L401.9 92.79L397.01 93.28Z"/><path d="M408.15 103.02L413.05 99.81L409.92 93.51L405.03 95.12Z"/><path d="M416.17 109.59L421.06 106.1L417.94 97.9L413.05 99.81Z"/><path d="M424.19 110.66L429.08 111.67L425.96 96.57L421.06 106.1Z"/><path d="M432.21 110.28L437.1 108.43L433.98 103.58L429.08 111.67Z"/><path d="M440.23 111.94L445.12 106.45L441.99 102.14L437.1 108.43Z"/><path d="M448.25 110.54L453.14 101.59L450.01 98.4L445.12 106.45Z"/><path d="M456.27 102.94L461.16 96.2L458.03 94.46L453.14 101.59Z"/><path d="M464.29 96.1L469.18 94.17L466.05 93.1L461.16 96.2Z"/><path d="M472.31 95.76L477.2 95.65L474.07 96.67L469.18 94.17Z"/><path d="M480.32 95.26L485.22 104.32L482.09 102.27L477.2 95.65Z"/><path d="M379.2 104.56L384.1 102.07L380.97 102.48L376.08 105.49Z"/><path d="M387.22 96.84L392.12 100.86L388.99 97.99L384.1 102.07Z"/><path d="M395.24 96.31L400.13 97.08L397.01 93.28L392.12 100.86Z"/><path d="M403.26 103.37L408.15 103.02L405.03 95.12L400.13 97.08Z"/><path d="M411.28 112.48L416.17 109.59L413.05 99.81L408.15 103.02Z"/><path d="M419.3 112.4L424.19 110.66L421.06 106.1L416.17 109.59Z"/><path d="M427.32 107.99L432.21 110.28L429.08 111.67L424.19 110.66Z"/><path d="M435.34 108.99L440.23 111.94L437.1 108.43L432.21 110.28Z"/><path d="M443.36 113.24L448.25 110.54L445.12 106.45L440.23 111.94Z"/><path d="M451.38 112.55L456.27 102.94L453.14 101.59L448.25 110.54Z"/><path d="M459.39 104.45L464.29 96.1L461.16 96.2L456.27 102.94Z"/><path d="M467.41 102.68L472.31 95.76L469.18 94.17L464.29 96.1Z"/><path d="M475.43 98.67L480.32 95.26L477.2 95.65L472.31 95.76Z"/><path d="M374.31 105.61L379.2 104.56L376.08 105.49L371.18 106.07Z"/><path d="M483.45 104.51L488.34 105.54L485.22 104.32L480.32 95.26Z"/><path d="M382.33 101.27L387.22 96.84L384.1 102.07L379.2 104.56Z"/><path d="M390.35 97.13L395.24 96.31L392.12 100.86L387.22 96.84Z"/><path d="M398.37 103.2L403.26 103.37L400.13 97.08L395.24 96.31Z"/><path d="M406.39 113.16L411.28 112.48L408.15 103.02L403.26 103.37Z"/><path d="M414.41 107.44L419.3 112.4L416.17 109.59L411.28 112.48Z"/><path d="M422.43 104.81L427.32 107.99L424.19 110.66L419.3 112.4Z"/><path d="M430.44 98.36L435.34 108.99L432.21 110.28L427.32 107.99Z"/><path d="M438.46 103.78L443.36 113.24L440.23 111.94L435.34 108.99Z"/><path d="M446.48 113.52L451.38 112.55L448.25 110.54L443.36 113.24Z"/><path d="M454.5 113.17L459.39 104.45L456.27 102.94L451.38 112.55Z"/><path d="M462.52 104.77L467.41 102.68L464.29 96.1L459.39 104.45Z"/><path d="M470.54 100.03L475.43 98.67L472.31 95.76L467.41 102.68Z"/><path d="M369.42 108.43L374.31 105.61L371.18 106.07L366.29 106.78Z"/><path d="M478.56 101.66L483.45 104.51L480.32 95.26L475.43 98.67Z"/><path d="M377.44 104.41L382.33 101.27L379.2 104.56L374.31 105.61Z"/><path d="M486.58 108.7L491.47 107.02L488.34 105.54L483.45 104.51Z"/><path d="M385.46 99.27L390.35 97.13L387.22 96.84L382.33 101.27Z"/><path d="M393.48 107.01L398.37 103.2L395.24 96.31L390.35 97.13Z"/><path d="M401.5 112.1L406.39 113.16L403.26 103.37L398.37 103.2Z"/><path d="M409.52 114.8L414.41 107.44L411.28 112.48L406.39 113.16Z"/><path d="M417.53 107.02L422.43 104.81L419.3 112.4L414.41 107.44Z"/><path d="M425.55 88.73L430.44 98.36L427.32 107.99L422.43 104.81Z"/><path d="M433.57 88.64L438.46 103.78L435.34 108.99L430.44 98.36Z"/><path d="M441.59 103.18L446.48 113.52L443.36 113.24L438.46 103.78Z"/><path d="M449.61 114.98L454.5 113.17L451.38 112.55L446.48 113.52Z"/><path d="M457.63 113.53L462.52 104.77L459.39 104.45L454.5 113.17Z"/><path d="M465.65 102.17L470.54 100.03L467.41 102.68L462.52 104.77Z"/><path d="M364.53 109.33L369.42 108.43L366.29 106.78L361.4 105.22Z"/><path d="M473.67 95.7L478.56 101.66L475.43 98.67L470.54 100.03Z"/><path d="M372.55 108.77L377.44 104.41L374.31 105.61L369.42 108.43Z"/><path d="M481.69 106.34L486.58 108.7L483.45 104.51L478.56 101.66Z"/><path d="M380.57 102.15L385.46 99.27L382.33 101.27L377.44 104.41Z"/><path d="M489.71 110.27L494.6 108.16L491.47 107.02L486.58 108.7Z"/><path d="M388.59 99.69L393.48 107.01L390.35 97.13L385.46 99.27Z"/><path d="M396.6 110.01L401.5 112.1L398.37 103.2L393.48 107.01Z"/><path d="M404.62 116.73L409.52 114.8L406.39 113.16L401.5 112.1Z"/><path d="M412.64 106.82L417.53 107.02L414.41 107.44L409.52 114.8Z"/><path d="M420.66 86.03L425.55 88.73L422.43 104.81L417.53 107.02Z"/><path d="M428.68 73.03L433.57 88.64L430.44 98.36L425.55 88.73Z"/><path d="M436.7 85.99L441.59 103.18L438.46 103.78L433.57 88.64Z"/><path d="M444.72 108.4L449.61 114.98L446.48 113.52L441.59 103.18Z"/><path d="M452.74 118.13L457.63 113.53L454.5 113.17L449.61 114.98Z"/><path d="M460.76 111.52L465.65 102.17L462.52 104.77L457.63 113.53Z"/><path d="M359.64 100.79L364.53 109.33L361.4 105.22L356.51 105.53Z"/><path d="M468.77 102.83L473.67 95.7L470.54 100.03L465.65 102.17Z"/><path d="M367.65 111.12L372.55 108.77L369.42 108.43L364.53 109.33Z"/><path d="M476.79 106.9L481.69 106.34L478.56 101.66L473.67 95.7Z"/><path d="M375.67 106.32L380.57 102.15L377.44 104.41L372.55 108.77Z"/><path d="M484.81 109.67L489.71 110.27L486.58 108.7L481.69 106.34Z"/><path d="M383.69 102.07L388.59 99.69L385.46 99.27L380.57 102.15Z"/><path d="M492.83 110.68L497.72 108.02L494.6 108.16L489.71 110.27Z"/><path d="M391.71 106.59L396.6 110.01L393.48 107.01L388.59 99.69Z"/><path d="M399.73 117.1L404.62 116.73L401.5 112.1L396.6 110.01Z"/><path d="M407.75 112.57L412.64 106.82L409.52 114.8L404.62 116.73Z"/><path d="M415.77 91.38L420.66 86.03L417.53 107.02L412.64 106.82Z"/><path d="M423.79 67.76L428.68 73.03L425.55 88.73L420.66 86.03Z"/><path d="M431.81 78.21L436.7 85.99L433.57 88.64L428.68 73.03Z"/><path d="M439.83 92.39L444.72 108.4L441.59 103.18L436.7 85.99Z"/><path d="M447.85 113.65L452.74 118.13L449.61 114.98L444.72 108.4Z"/><path d="M455.86 118.28L460.76 111.52L457.63 113.53L452.74 118.13Z"/><path d="M354.74 107.9L359.64 100.79L356.51 105.53L351.62 104.1Z"/><path d="M463.88 108.03L468.77 102.83L465.65 102.17L460.76 111.52Z"/><path d="M362.76 109.71L367.65 111.12L364.53 109.33L359.64 100.79Z"/><path d="M471.9 103.19L476.79 106.9L473.67 95.7L468.77 102.83Z"/><path d="M370.78 110.09L375.67 106.32L372.55 108.77L367.65 111.12Z"/><path d="M479.92 107.25L484.81 109.67L481.69 106.34L476.79 106.9Z"/><path d="M378.8 104.69L383.69 102.07L380.57 102.15L375.67 106.32Z"/><path d="M487.94 113.32L492.83 110.68L489.71 110.27L484.81 109.67Z"/><path d="M386.82 104.93L391.71 106.59L388.59 99.69L383.69 102.07Z"/><path d="M495.96 111.2L500.85 106.62L497.72 108.02L492.83 110.68Z"/><path d="M394.84 114.59L399.73 117.1L396.6 110.01L391.71 106.59Z"/><path d="M402.86 118.7L407.75 112.57L404.62 116.73L399.73 117.1Z"/><path d="M410.88 103.72L415.77 91.38L412.64 106.82L407.75 112.57Z"/><path d="M418.9 75.78L423.79 67.76L420.66 86.03L415.77 91.38Z"/><path d="M426.92 85.19L431.81 78.21L428.68 73.03L423.79 67.76Z"/><path d="M434.93 81.54L439.83 92.39L436.7 85.99L431.81 78.21Z"/><path d="M442.95 104.71L447.85 113.65L444.72 108.4L439.83 92.39Z"/><path d="M450.97 119.91L455.86 118.28L452.74 118.13L447.85 113.65Z"/><path d="M349.85 107.4L354.74 107.9L351.62 104.1L346.73 105.21Z"/><path d="M458.99 114.83L463.88 108.03L460.76 111.52L455.86 118.28Z"/><path d="M357.87 113L362.76 109.71L359.64 100.79L354.74 107.9Z"/><path d="M467.01 105.73L471.9 103.19L468.77 102.83L463.88 108.03Z"/><path d="M365.89 120.26L370.78 110.09L367.65 111.12L362.76 109.71Z"/><path d="M475.03 104.98L479.92 107.25L476.79 106.9L471.9 103.19Z"/><path d="M373.91 110.25L378.8 104.69L375.67 106.32L370.78 110.09Z"/><path d="M483.05 112.49L487.94 113.32L484.81 109.67L479.92 107.25Z"/><path d="M381.93 104.3L386.82 104.93L383.69 102.07L378.8 104.69Z"/><path d="M491.07 114.74L495.96 111.2L492.83 110.68L487.94 113.32Z"/><path d="M389.95 110.4L394.84 114.59L391.71 106.59L386.82 104.93Z"/><path d="M499.09 110.77L503.98 106.14L500.85 106.62L495.96 111.2Z"/><path d="M397.97 120.06L402.86 118.7L399.73 117.1L394.84 114.59Z"/><path d="M405.99 116.78L410.88 103.72L407.75 112.57L402.86 118.7Z"/><path d="M414 93.11L418.9 75.78L415.77 91.38L410.88 103.72Z"/><path d="M422.02 71.5L426.92 85.19L423.79 67.76L418.9 75.78Z"/><path d="M430.04 61.27L434.93 81.54L431.81 78.21L426.92 85.19Z"/><path d="M438.06 97.95L442.95 104.71L439.83 92.39L434.93 81.54Z"/><path d="M446.08 117.21L450.97 119.91L447.85 113.65L442.95 104.71Z"/><path d="M454.1 117.47L458.99 114.83L455.86 118.28L450.97 119.91Z"/><path d="M352.98 110.04L357.87 113L354.74 107.9L349.85 107.4Z"/><path d="M462.12 110.97L467.01 105.73L463.88 108.03L458.99 114.83Z"/><path d="M361 115.89L365.89 120.26L362.76 109.71L357.87 113Z"/><path d="M470.14 105.45L475.03 104.98L471.9 103.19L467.01 105.73Z"/><path d="M369.02 105.96L373.91 110.25L370.78 110.09L365.89 120.26Z"/><path d="M478.16 111.05L483.05 112.49L479.92 107.25L475.03 104.98Z"/><path d="M377.04 107.98L381.93 104.3L378.8 104.69L373.91 110.25Z"/><path d="M486.18 115.82L491.07 114.74L487.94 113.32L483.05 112.49Z"/><path d="M385.06 106.24L389.95 110.4L386.82 104.93L381.93 104.3Z"/><path d="M494.19 113.98L499.09 110.77L495.96 111.2L491.07 114.74Z"/><path d="M393.07 114.91L397.97 120.06L394.84 114.59L389.95 110.4Z"/><path d="M502.21 123.82L507.11 103.82L503.98 106.14L499.09 110.77Z"/><path d="M401.09 122.04L405.99 116.78L402.86 118.7L397.97 120.06Z"/><path d="M409.11 112.98L414 93.11L410.88 103.72L405.99 116.78Z"/><path d="M417.13 91.26L422.02 71.5L418.9 75.78L414 93.11Z"/><path d="M425.15 79.51L430.04 61.27L426.92 85.19L422.02 71.5Z"/><path d="M433.17 91.64L438.06 97.95L434.93 81.54L430.04 61.27Z"/><path d="M441.19 113.6L446.08 117.21L442.95 104.71L438.06 97.95Z"/><path d="M449.21 118.62L454.1 117.47L450.97 119.91L446.08 117.21Z"/><path d="M457.23 116.51L462.12 110.97L458.99 114.83L454.1 117.47Z"/><path d="M356.11 114.39L361 115.89L357.87 113L352.98 110.04Z"/><path d="M465.25 109.02L470.14 105.45L467.01 105.73L462.12 110.97Z"/><path d="M364.12 116.71L369.02 105.96L365.89 120.26L361 115.89Z"/><path d="M473.26 112.3L478.16 111.05L475.03 104.98L470.14 105.45Z"/><path d="M372.14 114.57L377.04 107.98L373.91 110.25L369.02 105.96Z"/><path d="M481.28 115.3L486.18 115.82L483.05 112.49L478.16 111.05Z"/><path d="M380.16 107.54L385.06 106.24L381.93 104.3L377.04 107.98Z"/><path d="M489.3 117.31L494.19 113.98L491.07 114.74L486.18 115.82Z"/><path d="M388.18 109.76L393.07 114.91L389.95 110.4L385.06 106.24Z"/><path d="M497.32 104.76L502.21 123.82L499.09 110.77L494.19 113.98Z"/><path d="M396.2 119.61L401.09 122.04L397.97 120.06L393.07 114.91Z"/><path d="M404.22 123.29L409.11 112.98L405.99 116.78L401.09 122.04Z"/><path d="M412.24 111.72L417.13 91.26L414 93.11L409.11 112.98Z"/><path d="M420.26 96.79L425.15 79.51L422.02 71.5L417.13 91.26Z"/><path d="M428.28 104.4L433.17 91.64L430.04 61.27L425.15 79.51Z"/><path d="M436.3 111.89L441.19 113.6L438.06 97.95L433.17 91.64Z"/><path d="M444.31 123.16L449.21 118.62L446.08 117.21L441.19 113.6Z"/><path d="M452.33 121.7L457.23 116.51L454.1 117.47L449.21 118.62Z"/><path d="M460.35 110.36L465.25 109.02L462.12 110.97L457.23 116.51Z"/><path d="M359.23 117.25L364.12 116.71L361 115.89L356.11 114.39Z"/><path d="M468.37 108.7L473.26 112.3L470.14 105.45L465.25 109.02Z"/><path d="M367.25 119.55L372.14 114.57L369.02 105.96L364.12 116.71Z"/><path d="M476.39 114.27L481.28 115.3L478.16 111.05L473.26 112.3Z"/><path d="M375.27 112.01L380.16 107.54L377.04 107.98L372.14 114.57Z"/><path d="M484.41 131.94L489.3 117.31L486.18 115.82L481.28 115.3Z"/><path d="M383.29 107.89L388.18 109.76L385.06 106.24L380.16 107.54Z"/><path d="M492.43 115.7L497.32 104.76L494.19 113.98L489.3 117.31Z"/><path d="M391.31 114.49L396.2 119.61L393.07 114.91L388.18 109.76Z"/><path d="M399.33 116.6L404.22 123.29L401.09 122.04L396.2 119.61Z"/><path d="M407.35 124.07L412.24 111.72L409.11 112.98L404.22 123.29Z"/><path d="M415.37 115.87L420.26 96.79L417.13 91.26L412.24 111.72Z"/><path d="M423.39 110.19L428.28 104.4L425.15 79.51L420.26 96.79Z"/><path d="M431.4 123.9L436.3 111.89L433.17 91.64L428.28 104.4Z"/><path d="M439.42 124.41L444.31 123.16L441.19 113.6L436.3 111.89Z"/><path d="M447.44 116.75L452.33 121.7L449.21 118.62L444.31 123.16Z"/><path d="M455.46 115.01L460.35 110.36L457.23 116.51L452.33 121.7Z"/><path d="M463.48 86.63L468.37 108.7L465.25 109.02L460.35 110.36Z"/><path d="M362.36 120.16L367.25 119.55L364.12 116.71L359.23 117.25Z"/><path d="M471.5 112.89L476.39 114.27L473.26 112.3L468.37 108.7Z"/><path d="M370.38 117.5L375.27 112.01L372.14 114.57L367.25 119.55Z"/><path d="M479.52 119.33L484.41 131.94L481.28 115.3L476.39 114.27Z"/><path d="M378.4 112.23L383.29 107.89L380.16 107.54L375.27 112.01Z"/><path d="M487.54 119.7L492.43 115.7L489.3 117.31L484.41 131.94Z"/><path d="M386.42 111.3L391.31 114.49L388.18 109.76L383.29 107.89Z"/><path d="M394.44 118.76L399.33 116.6L396.2 119.61L391.31 114.49Z"/><path d="M402.45 125.07L407.35 124.07L404.22 123.29L399.33 116.6Z"/><path d="M410.47 129.11L415.37 115.87L412.24 111.72L407.35 124.07Z"/><path d="M418.49 122.34L423.39 110.19L420.26 96.79L415.37 115.87Z"/><path d="M426.51 122.67L431.4 123.9L428.28 104.4L423.39 110.19Z"/><path d="M434.53 126.94L439.42 124.41L436.3 111.89L431.4 123.9Z"/><path d="M442.55 125.89L447.44 116.75L444.31 123.16L439.42 124.41Z"/><path d="M450.57 119.24L455.46 115.01L452.33 121.7L447.44 116.75Z"/><path d="M458.59 111.6L463.48 86.63L460.35 110.36L455.46 115.01Z"/><path d="M466.61 113.18L471.5 112.89L468.37 108.7L463.48 86.63Z"/><path d="M365.49 122.11L370.38 117.5L367.25 119.55L362.36 120.16Z"/><path d="M474.63 119.34L479.52 119.33L476.39 114.27L471.5 112.89Z"/><path d="M373.51 117.63L378.4 112.23L375.27 112.01L370.38 117.5Z"/><path d="M482.64 121.08L487.54 119.7L484.41 131.94L479.52 119.33Z"/><path d="M381.52 112.33L386.42 111.3L383.29 107.89L378.4 112.23Z"/><path d="M389.54 112.68L394.44 118.76L391.31 114.49L386.42 111.3Z"/><path d="M397.56 120.59L402.45 125.07L399.33 116.6L394.44 118.76Z"/><path d="M405.58 126.69L410.47 129.11L407.35 124.07L402.45 125.07Z"/><path d="M413.6 127.27L418.49 122.34L415.37 115.87L410.47 129.11Z"/><path d="M421.62 123.88L426.51 122.67L423.39 110.19L418.49 122.34Z"/><path d="M429.64 127.43L434.53 126.94L431.4 123.9L426.51 122.67Z"/><path d="M437.66 127.18L442.55 125.89L439.42 124.41L434.53 126.94Z"/><path d="M445.68 115.9L450.57 119.24L447.44 116.75L442.55 125.89Z"/><path d="M453.7 113.69L458.59 111.6L455.46 115.01L450.57 119.24Z"/><path d="M461.72 112.88L466.61 113.18L463.48 86.63L458.59 111.6Z"/><path d="M469.73 118.85L474.63 119.34L471.5 112.89L466.61 113.18Z"/><path d="M368.61 122.92L373.51 117.63L370.38 117.5L365.49 122.11Z"/><path d="M477.75 122L482.64 121.08L479.52 119.33L474.63 119.34Z"/><path d="M376.63 117.46L381.52 112.33L378.4 112.23L373.51 117.63Z"/><path d="M384.65 120.26L389.54 112.68L386.42 111.3L381.52 112.33Z"/><path d="M392.67 115.3L397.56 120.59L394.44 118.76L389.54 112.68Z"/><path d="M400.69 120.36L405.58 126.69L402.45 125.07L397.56 120.59Z"/><path d="M408.71 126.28L413.6 127.27L410.47 129.11L405.58 126.69Z"/><path d="M416.73 128.84L421.62 123.88L418.49 122.34L413.6 127.27Z"/><path d="M424.75 129.35L429.64 127.43L426.51 122.67L421.62 123.88Z"/><path d="M432.77 126.32L437.66 127.18L434.53 126.94L429.64 127.43Z"/><path d="M440.79 121.78L445.68 115.9L442.55 125.89L437.66 127.18Z"/><path d="M448.8 115.71L453.7 113.69L450.57 119.24L445.68 115.9Z"/><path d="M456.82 114.29L461.72 112.88L458.59 111.6L453.7 113.69Z"/><path d="M464.84 119.28L469.73 118.85L466.61 113.18L461.72 112.88Z"/><path d="M472.86 123.23L477.75 122L474.63 119.34L469.73 118.85Z"/><path d="M371.74 123.54L376.63 117.46L373.51 117.63L368.61 122.92Z"/><path d="M379.76 117.9L384.65 120.26L381.52 112.33L376.63 117.46Z"/><path d="M387.78 114.24L392.67 115.3L389.54 112.68L384.65 120.26Z"/><path d="M395.8 114.89L400.69 120.36L397.56 120.59L392.67 115.3Z"/><path d="M403.82 120.17L408.71 126.28L405.58 126.69L400.69 120.36Z"/><path d="M411.84 125.38L416.73 128.84L413.6 127.27L408.71 126.28Z"/><path d="M419.86 125.8L424.75 129.35L421.62 123.88L416.73 128.84Z"/><path d="M427.87 124.37L432.77 126.32L429.64 127.43L424.75 129.35Z"/><path d="M435.89 120.15L440.79 121.78L437.66 127.18L432.77 126.32Z"/><path d="M443.91 116.8L448.8 115.71L445.68 115.9L440.79 121.78Z"/><path d="M451.93 115.24L456.82 114.29L453.7 113.69L448.8 115.71Z"/><path d="M459.95 119.64L464.84 119.28L461.72 112.88L456.82 114.29Z"/><path d="M467.97 123.41L472.86 123.23L469.73 118.85L464.84 119.28Z"/><path d="M374.87 127.73L379.76 117.9L376.63 117.46L371.74 123.54Z"/><path d="M382.89 119.74L387.78 114.24L384.65 120.26L379.76 117.9Z"/><path d="M390.91 113.7L395.8 114.89L392.67 115.3L387.78 114.24Z"/><path d="M398.93 116.87L403.82 120.17L400.69 120.36L395.8 114.89Z"/><path d="M406.94 119.35L411.84 125.38L408.71 126.28L403.82 120.17Z"/><path d="M414.96 120.44L419.86 125.8L416.73 128.84L411.84 125.38Z"/><path d="M422.98 122L427.87 124.37L424.75 129.35L419.86 125.8Z"/><path d="M431 119.43L435.89 120.15L432.77 126.32L427.87 124.37Z"/><path d="M439.02 116.46L443.91 116.8L440.79 121.78L435.89 120.15Z"/><path d="M447.04 116.31L451.93 115.24L448.8 115.71L443.91 116.8Z"/><path d="M455.06 121.02L459.95 119.64L456.82 114.29L451.93 115.24Z"/><path d="M463.08 126.55L467.97 123.41L464.84 119.28L459.95 119.64Z"/><path d="M378 125.5L382.89 119.74L379.76 117.9L374.87 127.73Z"/><path d="M386.01 121.81L390.91 113.7L387.78 114.24L382.89 119.74Z"/><path d="M394.03 118.14L398.93 116.87L395.8 114.89L390.91 113.7Z"/><path d="M402.05 117.22L406.94 119.35L403.82 120.17L398.93 116.87Z"/><path d="M410.07 118.63L414.96 120.44L411.84 125.38L406.94 119.35Z"/><path d="M418.09 118.06L422.98 122L419.86 125.8L414.96 120.44Z"/><path d="M426.11 117.74L431 119.43L427.87 124.37L422.98 122Z"/><path d="M434.13 117.65L439.02 116.46L435.89 120.15L431 119.43Z"/><path d="M442.15 118.21L447.04 116.31L443.91 116.8L439.02 116.46Z"/><path d="M450.17 131.1L455.06 121.02L451.93 115.24L447.04 116.31Z"/><path d="M458.19 126.76L463.08 126.55L459.95 119.64L455.06 121.02Z"/><path d="M381.12 125.39L386.01 121.81L382.89 119.74L378 125.5Z"/><path d="M389.14 123.03L394.03 118.14L390.91 113.7L386.01 121.81Z"/><path d="M397.16 119.87L402.05 117.22L398.93 116.87L394.03 118.14Z"/><path d="M405.18 119.43L410.07 118.63L406.94 119.35L402.05 117.22Z"/><path d="M413.2 115.04L418.09 118.06L414.96 120.44L410.07 118.63Z"/><path d="M421.22 117.62L426.11 117.74L422.98 122L418.09 118.06Z"/><path d="M429.24 119.06L434.13 117.65L431 119.43L426.11 117.74Z"/><path d="M437.25 121.04L442.15 118.21L439.02 116.46L434.13 117.65Z"/><path d="M445.27 124.28L450.17 131.1L447.04 116.31L442.15 118.21Z"/><path d="M453.29 127.33L458.19 126.76L455.06 121.02L450.17 131.1Z"/><path d="M384.25 129.69L389.14 123.03L386.01 121.81L381.12 125.39Z"/><path d="M392.27 123.61L397.16 119.87L394.03 118.14L389.14 123.03Z"/><path d="M400.29 123.66L405.18 119.43L402.05 117.22L397.16 119.87Z"/><path d="M408.31 123.52L413.2 115.04L410.07 118.63L405.18 119.43Z"/><path d="M416.32 121.17L421.22 117.62L418.09 118.06L413.2 115.04Z"/><path d="M424.34 122.39L429.24 119.06L426.11 117.74L421.22 117.62Z"/><path d="M432.36 123.21L437.25 121.04L434.13 117.65L429.24 119.06Z"/><path d="M440.38 130.61L445.27 124.28L442.15 118.21L437.25 121.04Z"/><path d="M448.4 130.34L453.29 127.33L450.17 131.1L445.27 124.28Z"/><path d="M387.38 131.39L392.27 123.61L389.14 123.03L384.25 129.69Z"/><path d="M395.39 129.66L400.29 123.66L397.16 119.87L392.27 123.61Z"/><path d="M403.41 127.27L408.31 123.52L405.18 119.43L400.29 123.66Z"/><path d="M411.43 126.07L416.32 121.17L413.2 115.04L408.31 123.52Z"/><path d="M419.45 127.28L424.34 122.39L421.22 117.62L416.32 121.17Z"/><path d="M427.47 127.72L432.36 123.21L429.24 119.06L424.34 122.39Z"/><path d="M435.49 129.96L440.38 130.61L437.25 121.04L432.36 123.21Z"/><path d="M443.51 131.72L448.4 130.34L445.27 124.28L440.38 130.61Z"/><path d="M390.5 134.28L395.39 129.66L392.27 123.61L387.38 131.39Z"/><path d="M398.52 131.39L403.41 127.27L400.29 123.66L395.39 129.66Z"/><path d="M406.54 130.87L411.43 126.07L408.31 123.52L403.41 127.27Z"/><path d="M414.56 130.98L419.45 127.28L416.32 121.17L411.43 126.07Z"/><path d="M422.58 132.33L427.47 127.72L424.34 122.39L419.45 127.28Z"/><path d="M430.6 147.67L435.49 129.96L432.36 123.21L427.47 127.72Z"/><path d="M438.62 133.36L443.51 131.72L440.38 130.61L435.49 129.96Z"/><path d="M393.63 149.14L398.52 131.39L395.39 129.66L390.5 134.28Z"/><path d="M401.65 134.42L406.54 130.87L403.41 127.27L398.52 131.39Z"/><path d="M409.67 134.72L414.56 130.98L411.43 126.07L406.54 130.87Z"/><path d="M417.69 135.31L422.58 132.33L419.45 127.28L414.56 130.98Z"/><path d="M425.71 135.41L430.6 147.67L427.47 127.72L422.58 132.33Z"/><path d="M433.72 134.94L438.62 133.36L435.49 129.96L430.6 147.67Z"/><path d="M396.76 135.21L401.65 134.42L398.52 131.39L393.63 149.14Z"/><path d="M404.78 135.79L409.67 134.72L406.54 130.87L401.65 134.42Z"/><path d="M412.79 135.94L417.69 135.31L414.56 130.98L409.67 134.72Z"/><path d="M420.81 137.05L425.71 135.41L422.58 132.33L417.69 135.31Z"/><path d="M428.83 135.2L433.72 134.94L430.6 147.67L425.71 135.41Z"/><path d="M399.88 134.92L404.78 135.79L401.65 134.42L396.76 135.21Z"/><path d="M407.9 135.59L412.79 135.94L409.67 134.72L404.78 135.79Z"/><path d="M415.92 136.02L420.81 137.05L417.69 135.31L412.79 135.94Z"/><path d="M423.94 134.5L428.83 135.2L425.71 135.41L420.81 137.05Z"/><path d="M403.01 133.59L407.9 135.59L404.78 135.79L399.88 134.92Z"/><path d="M411.03 133.9L415.92 136.02L412.79 135.94L407.9 135.59Z"/><path d="M419.05 134.29L423.94 134.5L420.81 137.05L415.92 136.02Z"/><path d="M406.14 134.88L411.03 133.9L407.9 135.59L403.01 133.59Z"/><path d="M414.16 132.68L419.05 134.29L415.92 136.02L411.03 133.9Z"/><path d="M409.26 133.13L414.16 132.68L411.03 133.9L406.14 134.88Z"/></g>
<g font-family="&quot;Liberation Sans&quot;, sans-serif" font-size="6.7" fill="#262626" stroke="#262626" stroke-width="0.12"><text x="308.69" y="135.72" text-anchor="end">-40</text><text x="308.69" y="116.92" text-anchor="end">-20</text><text x="308.69" y="98.12" text-anchor="end">0</text><text x="308.69" y="79.32" text-anchor="end">20</text><text x="308.69" y="60.52" text-anchor="end">40</text><text x="308.69" y="41.72" text-anchor="end">60</text><text x="401.8" y="187.21" text-anchor="end">0</text><text x="370.53" y="172.68" text-anchor="end">10</text><text x="339.26" y="158.15" text-anchor="end">20</text><text x="307.99" y="143.62" text-anchor="end">30</text><text x="413.1" y="187.61">0</text><text x="437.56" y="180.89">5</text><text x="462.02" y="174.17">10</text><text x="486.48" y="167.45">15</text><text x="510.94" y="160.73">20</text><text x="535.4" y="154.01">25</text></g>
<text transform="translate(406.9 204.5) scale(0.98 1)" text-anchor="middle" font-family="&quot;Liberation Serif&quot;, serif" font-size="14.0" fill="#000">(<tspan font-weight="bold" font-size="12.8">b</tspan>)</text><path d="M142.46 387.48L48.65 343.89M166.92 380.76L73.11 337.17M191.38 374.04L97.57 330.45M215.84 367.32L122.03 323.73M240.3 360.6L146.49 317.01M86.73 379.67L209.03 346.07M55.46 365.14L177.76 331.54M24.19 350.61L146.49 317.01M48.65 343.89L48.65 249.89M73.11 337.17L73.11 243.17M97.57 330.45L97.57 236.45M122.03 323.73L122.03 229.73M146.49 317.01L146.49 223.01M24.19 327.11L146.49 293.51M24.19 303.61L146.49 270.01M24.19 280.11L146.49 246.51M24.19 256.61L146.49 223.01M240.3 360.6L240.3 266.6M209.03 346.07L209.03 252.07M177.76 331.54L177.76 237.54M240.3 337.1L146.49 293.51M240.3 313.6L146.49 270.01M240.3 290.1L146.49 246.51M240.3 266.6L146.49 223.01" stroke="#d6d6d6" stroke-width="0.6" fill="none"/>
<path d="M118 394.2L240.3 360.6M118 394.2L24.19 350.61M24.19 350.61L24.19 256.61M118 394.2L120.72 395.46M142.46 387.48L145.18 388.74M166.92 380.76L169.64 382.02M191.38 374.04L194.1 375.3M215.84 367.32L218.56 368.58M240.3 360.6L243.02 361.86M118 394.2L115.11 394.99M86.73 379.67L83.84 380.46M55.46 365.14L52.57 365.93M24.19 350.61L21.3 351.4M24.19 350.61L21.47 349.35M24.19 327.11L21.47 325.85M24.19 303.61L21.47 302.35M24.19 280.11L21.47 278.85M24.19 256.61L21.47 255.35" stroke="#262626" stroke-width="0.85" fill="none"/>
<g fill="#fff" stroke="#111" stroke-width="0.65" stroke-linejoin="round"><path d="M153.3 314.27L158.19 309.38L155.07 307.53L150.17 309.26Z"/><path d="M148.41 318.91L153.3 314.27L150.17 309.26L145.28 313.39Z"/><path d="M156.43 318.84L161.32 313.95L158.19 309.38L153.3 314.27Z"/><path d="M143.52 321.71L148.41 318.91L145.28 313.39L140.39 318.01Z"/><path d="M151.54 322.51L156.43 318.84L153.3 314.27L148.41 318.91Z"/><path d="M159.55 321.64L164.45 317.59L161.32 313.95L156.43 318.84Z"/><path d="M138.62 324.35L143.52 321.71L140.39 318.01L135.5 321.51Z"/><path d="M146.64 324.82L151.54 322.51L148.41 318.91L143.52 321.71Z"/><path d="M154.66 324.54L159.55 321.64L156.43 318.84L151.54 322.51Z"/><path d="M162.68 323.88L167.57 322.1L164.45 317.59L159.55 321.64Z"/><path d="M133.73 324.04L138.62 324.35L135.5 321.51L130.6 324.55Z"/><path d="M141.75 323.73L146.64 324.82L143.52 321.71L138.62 324.35Z"/><path d="M149.77 323.06L154.66 324.54L151.54 322.51L146.64 324.82Z"/><path d="M157.79 322.82L162.68 323.88L159.55 321.64L154.66 324.54Z"/><path d="M165.81 325.04L170.7 324.02L167.57 322.1L162.68 323.88Z"/><path d="M128.84 324.67L133.73 324.04L130.6 324.55L125.71 325.68Z"/><path d="M136.86 321.82L141.75 323.73L138.62 324.35L133.73 324.04Z"/><path d="M144.88 320.9L149.77 323.06L146.64 324.82L141.75 323.73Z"/><path d="M152.9 320.39L157.79 322.82L154.66 324.54L149.77 323.06Z"/><path d="M160.92 321.78L165.81 325.04L162.68 323.88L157.79 322.82Z"/><path d="M168.94 324.73L173.83 325.84L170.7 324.02L165.81 325.04Z"/><path d="M123.95 323.58L128.84 324.67L125.71 325.68L120.82 326.63Z"/><path d="M131.97 320.45L136.86 321.82L133.73 324.04L128.84 324.67Z"/><path d="M139.99 318.06L144.88 320.9L141.75 323.73L136.86 321.82Z"/><path d="M148 317.93L152.9 320.39L149.77 323.06L144.88 320.9Z"/><path d="M156.02 317.87L160.92 321.78L157.79 322.82L152.9 320.39Z"/><path d="M164.04 320.87L168.94 324.73L165.81 325.04L160.92 321.78Z"/><path d="M172.06 323.75L176.95 327.75L173.83 325.84L168.94 324.73Z"/><path d="M119.06 322.49L123.95 323.58L120.82 326.63L115.93 327.44Z"/><path d="M127.08 318.53L131.97 320.45L128.84 324.67L123.95 323.58Z"/><path d="M135.09 317.86L139.99 318.06L136.86 321.82L131.97 320.45Z"/><path d="M143.11 317.36L148 317.93L144.88 320.9L139.99 318.06Z"/><path d="M151.13 317.11L156.02 317.87L152.9 320.39L148 317.93Z"/><path d="M159.15 316.85L164.04 320.87L160.92 321.78L156.02 317.87Z"/><path d="M167.17 319.09L172.06 323.75L168.94 324.73L164.04 320.87Z"/><path d="M175.19 323.14L180.08 326.91L176.95 327.75L172.06 323.75Z"/><path d="M114.16 324.03L119.06 322.49L115.93 327.44L111.04 327.42Z"/><path d="M122.18 319.03L127.08 318.53L123.95 323.58L119.06 322.49Z"/><path d="M130.2 318.75L135.09 317.86L131.97 320.45L127.08 318.53Z"/><path d="M138.22 319.43L143.11 317.36L139.99 318.06L135.09 317.86Z"/><path d="M146.24 320.43L151.13 317.11L148 317.93L143.11 317.36Z"/><path d="M154.26 319.42L159.15 316.85L156.02 317.87L151.13 317.11Z"/><path d="M162.28 318.5L167.17 319.09L164.04 320.87L159.15 316.85Z"/><path d="M170.3 319.31L175.19 323.14L172.06 323.75L167.17 319.09Z"/><path d="M178.32 323.56L183.21 328.47L180.08 326.91L175.19 323.14Z"/><path d="M109.27 325.43L114.16 324.03L111.04 327.42L106.15 329.21Z"/><path d="M117.29 320.31L122.18 319.03L119.06 322.49L114.16 324.03Z"/><path d="M125.31 319.67L130.2 318.75L127.08 318.53L122.18 319.03Z"/><path d="M133.33 323.53L138.22 319.43L135.09 317.86L130.2 318.75Z"/><path d="M141.35 325.09L146.24 320.43L143.11 317.36L138.22 319.43Z"/><path d="M149.37 326.69L154.26 319.42L151.13 317.11L146.24 320.43Z"/><path d="M157.39 324.78L162.28 318.5L159.15 316.85L154.26 319.42Z"/><path d="M165.41 320.66L170.3 319.31L167.17 319.09L162.28 318.5Z"/><path d="M173.42 320.16L178.32 323.56L175.19 323.14L170.3 319.31Z"/><path d="M181.44 324.76L186.34 330.32L183.21 328.47L178.32 323.56Z"/><path d="M104.38 326.23L109.27 325.43L106.15 329.21L101.25 330.27Z"/><path d="M112.4 320.59L117.29 320.31L114.16 324.03L109.27 325.43Z"/><path d="M120.42 322.47L125.31 319.67L122.18 319.03L117.29 320.31Z"/><path d="M128.44 329.08L133.33 323.53L130.2 318.75L125.31 319.67Z"/><path d="M136.46 333.19L141.35 325.09L138.22 319.43L133.33 323.53Z"/><path d="M144.47 334.33L149.37 326.69L146.24 320.43L141.35 325.09Z"/><path d="M152.49 333.3L157.39 324.78L154.26 319.42L149.37 326.69Z"/><path d="M160.51 329.24L165.41 320.66L162.28 318.5L157.39 324.78Z"/><path d="M168.53 324.61L173.42 320.16L170.3 319.31L165.41 320.66Z"/><path d="M176.55 321.29L181.44 324.76L178.32 323.56L173.42 320.16Z"/><path d="M184.57 327.07L189.46 331.14L186.34 330.32L181.44 324.76Z"/><path d="M99.49 328.55L104.38 326.23L101.25 330.27L96.36 332.1Z"/><path d="M107.51 322.1L112.4 320.59L109.27 325.43L104.38 326.23Z"/><path d="M115.53 324.2L120.42 322.47L117.29 320.31L112.4 320.59Z"/><path d="M123.55 331.45L128.44 329.08L125.31 319.67L120.42 322.47Z"/><path d="M131.56 338.94L136.46 333.19L133.33 323.53L128.44 329.08Z"/><path d="M139.58 341.53L144.47 334.33L141.35 325.09L136.46 333.19Z"/><path d="M147.6 341.57L152.49 333.3L149.37 326.69L144.47 334.33Z"/><path d="M155.62 339.49L160.51 329.24L157.39 324.78L152.49 333.3Z"/><path d="M163.64 332.58L168.53 324.61L165.41 320.66L160.51 329.24Z"/><path d="M171.66 326.33L176.55 321.29L173.42 320.16L168.53 324.61Z"/><path d="M179.68 323.7L184.57 327.07L181.44 324.76L176.55 321.29Z"/><path d="M187.7 329.63L192.59 333.26L189.46 331.14L184.57 327.07Z"/><path d="M94.6 331.65L99.49 328.55L96.36 332.1L91.47 334.55Z"/><path d="M102.62 324.93L107.51 322.1L104.38 326.23L99.49 328.55Z"/><path d="M110.63 324.86L115.53 324.2L112.4 320.59L107.51 322.1Z"/><path d="M118.65 335.1L123.55 331.45L120.42 322.47L115.53 324.2Z"/><path d="M126.67 342.37L131.56 338.94L128.44 329.08L123.55 331.45Z"/><path d="M134.69 343.57L139.58 341.53L136.46 333.19L131.56 338.94Z"/><path d="M142.71 343.6L147.6 341.57L144.47 334.33L139.58 341.53Z"/><path d="M150.73 343.93L155.62 339.49L152.49 333.3L147.6 341.57Z"/><path d="M158.75 342.39L163.64 332.58L160.51 329.24L155.62 339.49Z"/><path d="M166.77 335.42L171.66 326.33L168.53 324.61L163.64 332.58Z"/><path d="M174.79 326.11L179.68 323.7L176.55 321.29L171.66 326.33Z"/><path d="M182.81 324.62L187.7 329.63L184.57 327.07L179.68 323.7Z"/><path d="M190.82 332.3L195.72 334.96L192.59 333.26L187.7 329.63Z"/><path d="M89.7 335.46L94.6 331.65L91.47 334.55L86.58 335.07Z"/><path d="M97.72 326.97L102.62 324.93L99.49 328.55L94.6 331.65Z"/><path d="M105.74 324.25L110.63 324.86L107.51 322.1L102.62 324.93Z"/><path d="M113.76 335.02L118.65 335.1L115.53 324.2L110.63 324.86Z"/><path d="M121.78 343.32L126.67 342.37L123.55 331.45L118.65 335.1Z"/><path d="M129.8 345.29L134.69 343.57L131.56 338.94L126.67 342.37Z"/><path d="M137.82 339.86L142.71 343.6L139.58 341.53L134.69 343.57Z"/><path d="M145.84 341.51L150.73 343.93L147.6 341.57L142.71 343.6Z"/><path d="M153.86 344.69L158.75 342.39L155.62 339.49L150.73 343.93Z"/><path d="M161.88 344.2L166.77 335.42L163.64 332.58L158.75 342.39Z"/><path d="M169.89 335.45L174.79 326.11L171.66 326.33L166.77 335.42Z"/><path d="M177.91 326.76L182.81 324.62L179.68 323.7L174.79 326.11Z"/><path d="M185.93 328.44L190.82 332.3L187.7 329.63L182.81 324.62Z"/><path d="M84.81 338.5L89.7 335.46L86.58 335.07L81.69 337.83Z"/><path d="M193.95 335.83L198.84 338.51L195.72 334.96L190.82 332.3Z"/><path d="M92.83 330.64L97.72 326.97L94.6 331.65L89.7 335.46Z"/><path d="M100.85 326.91L105.74 324.25L102.62 324.93L97.72 326.97Z"/><path d="M108.87 334.01L113.76 335.02L110.63 324.86L105.74 324.25Z"/><path d="M116.89 344.05L121.78 343.32L118.65 335.1L113.76 335.02Z"/><path d="M124.91 345.32L129.8 345.29L126.67 342.37L121.78 343.32Z"/><path d="M132.93 334.69L137.82 339.86L134.69 343.57L129.8 345.29Z"/><path d="M140.94 328.18L145.84 341.51L142.71 343.6L137.82 339.86Z"/><path d="M148.96 334.78L153.86 344.69L150.73 343.93L145.84 341.51Z"/><path d="M156.98 345.99L161.88 344.2L158.75 342.39L153.86 344.69Z"/><path d="M165 344.4L169.89 335.45L166.77 335.42L161.88 344.2Z"/><path d="M173.02 334.53L177.91 326.76L174.79 326.11L169.89 335.45Z"/><path d="M181.04 327.16L185.93 328.44L182.81 324.62L177.91 326.76Z"/><path d="M79.92 340.47L84.81 338.5L81.69 337.83L76.79 337.37Z"/><path d="M189.06 332.41L193.95 335.83L190.82 332.3L185.93 328.44Z"/><path d="M87.94 335.25L92.83 330.64L89.7 335.46L84.81 338.5Z"/><path d="M197.08 338.95L201.97 338.81L198.84 338.51L193.95 335.83Z"/><path d="M95.96 327.19L100.85 326.91L97.72 326.97L92.83 330.64Z"/><path d="M103.98 332.13L108.87 334.01L105.74 324.25L100.85 326.91Z"/><path d="M112 344.17L116.89 344.05L113.76 335.02L108.87 334.01Z"/><path d="M120.02 347.3L124.91 345.32L121.78 343.32L116.89 344.05Z"/><path d="M128.03 332.14L132.93 334.69L129.8 345.29L124.91 345.32Z"/><path d="M136.05 315.21L140.94 328.18L137.82 339.86L132.93 334.69Z"/><path d="M144.07 315.39L148.96 334.78L145.84 341.51L140.94 328.18Z"/><path d="M152.09 333.12L156.98 345.99L153.86 344.69L148.96 334.78Z"/><path d="M160.11 348.21L165 344.4L161.88 344.2L156.98 345.99Z"/><path d="M168.13 344.41L173.02 334.53L169.89 335.45L165 344.4Z"/><path d="M176.15 333.35L181.04 327.16L177.91 326.76L173.02 334.53Z"/><path d="M75.03 340.77L79.92 340.47L76.79 337.37L71.9 337.06Z"/><path d="M184.17 329.53L189.06 332.41L185.93 328.44L181.04 327.16Z"/><path d="M83.05 339.48L87.94 335.25L84.81 338.5L79.92 340.47Z"/><path d="M192.19 336.71L197.08 338.95L193.95 335.83L189.06 332.41Z"/><path d="M91.07 331.34L95.96 327.19L92.83 330.64L87.94 335.25Z"/><path d="M200.21 340.95L205.1 339.44L201.97 338.81L197.08 338.95Z"/><path d="M99.09 329.74L103.98 332.13L100.85 326.91L95.96 327.19Z"/><path d="M107.1 340.77L112 344.17L108.87 334.01L103.98 332.13Z"/><path d="M115.12 348.42L120.02 347.3L116.89 344.05L112 344.17Z"/><path d="M123.14 337.61L128.03 332.14L124.91 345.32L120.02 347.3Z"/><path d="M131.16 310.53L136.05 315.21L132.93 334.69L128.03 332.14Z"/><path d="M139.18 298.16L144.07 315.39L140.94 328.18L136.05 315.21Z"/><path d="M147.2 311.45L152.09 333.12L148.96 334.78L144.07 315.39Z"/><path d="M155.22 337.76L160.11 348.21L156.98 345.99L152.09 333.12Z"/><path d="M163.24 350.24L168.13 344.41L165 344.4L160.11 348.21Z"/><path d="M171.26 341.7L176.15 333.35L173.02 334.53L168.13 344.41Z"/><path d="M70.14 339.61L75.03 340.77L71.9 337.06L67.01 335.39Z"/><path d="M179.27 330.77L184.17 329.53L181.04 327.16L176.15 333.35Z"/><path d="M78.16 343.48L83.05 339.48L79.92 340.47L75.03 340.77Z"/><path d="M187.29 333.14L192.19 336.71L189.06 332.41L184.17 329.53Z"/><path d="M86.17 336.8L91.07 331.34L87.94 335.25L83.05 339.48Z"/><path d="M195.31 341.35L200.21 340.95L197.08 338.95L192.19 336.71Z"/><path d="M94.19 331.06L99.09 329.74L95.96 327.19L91.07 331.34Z"/><path d="M203.33 343.56L208.22 338.56L205.1 339.44L200.21 340.95Z"/><path d="M102.21 336.53L107.1 340.77L103.98 332.13L99.09 329.74Z"/><path d="M110.23 348.85L115.12 348.42L112 344.17L107.1 340.77Z"/><path d="M118.25 344.55L123.14 337.61L120.02 347.3L115.12 348.42Z"/><path d="M126.27 319.35L131.16 310.53L128.03 332.14L123.14 337.61Z"/><path d="M134.29 292.61L139.18 298.16L136.05 315.21L131.16 310.53Z"/><path d="M142.31 291.92L147.2 311.45L144.07 315.39L139.18 298.16Z"/><path d="M150.33 318.74L155.22 337.76L152.09 333.12L147.2 311.45Z"/><path d="M158.34 345.41L163.24 350.24L160.11 348.21L155.22 337.76Z"/><path d="M166.36 349.55L171.26 341.7L168.13 344.41L163.24 350.24Z"/><path d="M65.24 337.59L70.14 339.61L67.01 335.39L62.12 333.73Z"/><path d="M174.38 337.38L179.27 330.77L176.15 333.35L171.26 341.7Z"/><path d="M73.26 343.55L78.16 343.48L75.03 340.77L70.14 339.61Z"/><path d="M182.4 330.92L187.29 333.14L184.17 329.53L179.27 330.77Z"/><path d="M81.28 342.4L86.17 336.8L83.05 339.48L78.16 343.48Z"/><path d="M190.42 337.76L195.31 341.35L192.19 336.71L187.29 333.14Z"/><path d="M89.3 334.07L94.19 331.06L91.07 331.34L86.17 336.8Z"/><path d="M198.44 344.04L203.33 343.56L200.21 340.95L195.31 341.35Z"/><path d="M97.32 332.51L102.21 336.53L99.09 329.74L94.19 331.06Z"/><path d="M206.46 342.1L211.35 337.72L208.22 338.56L203.33 343.56Z"/><path d="M105.34 345.76L110.23 348.85L107.1 340.77L102.21 336.53Z"/><path d="M113.36 351.83L118.25 344.55L115.12 348.42L110.23 348.85Z"/><path d="M121.38 333.42L126.27 319.35L123.14 337.61L118.25 344.55Z"/><path d="M129.4 301.32L134.29 292.61L131.16 310.53L126.27 319.35Z"/><path d="M137.42 286.47L142.31 291.92L139.18 298.16L134.29 292.61Z"/><path d="M145.43 301.28L150.33 318.74L147.2 311.45L142.31 291.92Z"/><path d="M153.45 333.4L158.34 345.41L155.22 337.76L150.33 318.74Z"/><path d="M161.47 353.19L166.36 349.55L163.24 350.24L158.34 345.41Z"/><path d="M60.35 337.17L65.24 337.59L62.12 333.73L57.22 335.07Z"/><path d="M169.49 347.02L174.38 337.38L171.26 341.7L166.36 349.55Z"/><path d="M68.37 343.44L73.26 343.55L70.14 339.61L65.24 337.59Z"/><path d="M177.51 333.52L182.4 330.92L179.27 330.77L174.38 337.38Z"/><path d="M76.39 345.34L81.28 342.4L78.16 343.48L73.26 343.55Z"/><path d="M185.53 334.4L190.42 337.76L187.29 333.14L182.4 330.92Z"/><path d="M84.41 339.52L89.3 334.07L86.17 336.8L81.28 342.4Z"/><path d="M193.55 343.13L198.44 344.04L195.31 341.35L190.42 337.76Z"/><path d="M92.43 333.47L97.32 332.51L94.19 331.06L89.3 334.07Z"/><path d="M201.57 345.59L206.46 342.1L203.33 343.56L198.44 344.04Z"/><path d="M100.45 339.52L105.34 345.76L102.21 336.53L97.32 332.51Z"/><path d="M209.59 339.32L214.48 335.82L211.35 337.72L206.46 342.1Z"/><path d="M108.47 352.7L113.36 351.83L110.23 348.85L105.34 345.76Z"/><path d="M116.48 348.81L121.38 333.42L118.25 344.55L113.36 351.83Z"/><path d="M124.5 321.15L129.4 301.32L126.27 319.35L121.38 333.42Z"/><path d="M132.52 294.54L137.42 286.47L134.29 292.61L129.4 301.32Z"/><path d="M140.54 295.46L145.43 301.28L142.31 291.92L137.42 286.47Z"/><path d="M148.56 321.71L153.45 333.4L150.33 318.74L145.43 301.28Z"/><path d="M156.58 348.17L161.47 353.19L158.34 345.41L153.45 333.4Z"/><path d="M164.6 353.13L169.49 347.02L166.36 349.55L161.47 353.19Z"/><path d="M63.48 340.99L68.37 343.44L65.24 337.59L60.35 337.17Z"/><path d="M172.62 340.16L177.51 333.52L174.38 337.38L169.49 347.02Z"/><path d="M71.5 346.47L76.39 345.34L73.26 343.55L68.37 343.44Z"/><path d="M180.64 335.11L185.53 334.4L182.4 330.92L177.51 333.52Z"/><path d="M79.52 343.88L84.41 339.52L81.28 342.4L76.39 345.34Z"/><path d="M188.66 340.11L193.55 343.13L190.42 337.76L185.53 334.4Z"/><path d="M87.54 336.56L92.43 333.47L89.3 334.07L84.41 339.52Z"/><path d="M196.68 347.11L201.57 345.59L198.44 344.04L193.55 343.13Z"/><path d="M95.56 335.91L100.45 339.52L97.32 332.51L92.43 333.47Z"/><path d="M204.69 344.6L209.59 339.32L206.46 342.1L201.57 345.59Z"/><path d="M103.57 346.87L108.47 352.7L105.34 345.76L100.45 339.52Z"/><path d="M212.71 339.55L217.61 336.49L214.48 335.82L209.59 339.32Z"/><path d="M111.59 354.78L116.48 348.81L113.36 351.83L108.47 352.7Z"/><path d="M119.61 343.09L124.5 321.15L121.38 333.42L116.48 348.81Z"/><path d="M127.63 316.86L132.52 294.54L129.4 301.32L124.5 321.15Z"/><path d="M135.65 304.49L140.54 295.46L137.42 286.47L132.52 294.54Z"/><path d="M143.67 317.01L148.56 321.71L145.43 301.28L140.54 295.46Z"/><path d="M151.69 343.48L156.58 348.17L153.45 333.4L148.56 321.71Z"/><path d="M159.71 355.32L164.6 353.13L161.47 353.19L156.58 348.17Z"/><path d="M167.73 347.66L172.62 340.16L169.49 347.02L164.6 353.13Z"/><path d="M66.61 345.51L71.5 346.47L68.37 343.44L63.48 340.99Z"/><path d="M175.75 337.55L180.64 335.11L177.51 333.52L172.62 340.16Z"/><path d="M74.62 349.37L79.52 343.88L76.39 345.34L71.5 346.47Z"/><path d="M183.76 339.76L188.66 340.11L185.53 334.4L180.64 335.11Z"/><path d="M82.64 343.18L87.54 336.56L84.41 339.52L79.52 343.88Z"/><path d="M191.78 346.67L196.68 347.11L193.55 343.13L188.66 340.11Z"/><path d="M90.66 337.08L95.56 335.91L92.43 333.47L87.54 336.56Z"/><path d="M199.8 348.57L204.69 344.6L201.57 345.59L196.68 347.11Z"/><path d="M98.68 339.89L103.57 346.87L100.45 339.52L95.56 335.91Z"/><path d="M207.82 342.36L212.71 339.55L209.59 339.32L204.69 344.6Z"/><path d="M106.7 351.71L111.59 354.78L108.47 352.7L103.57 346.87Z"/><path d="M114.72 355.62L119.61 343.09L116.48 348.81L111.59 354.78Z"/><path d="M122.74 341.37L127.63 316.86L124.5 321.15L119.61 343.09Z"/><path d="M130.76 323.59L135.65 304.49L132.52 294.54L127.63 316.86Z"/><path d="M138.78 324.75L143.67 317.01L140.54 295.46L135.65 304.49Z"/><path d="M146.8 342.01L151.69 343.48L148.56 321.71L143.67 317.01Z"/><path d="M154.81 355.99L159.71 355.32L156.58 348.17L151.69 343.48Z"/><path d="M162.83 352.53L167.73 347.66L164.6 353.13L159.71 355.32Z"/><path d="M170.85 340.95L175.75 337.55L172.62 340.16L167.73 347.66Z"/><path d="M69.73 348.66L74.62 349.37L71.5 346.47L66.61 345.51Z"/><path d="M178.87 337.91L183.76 339.76L180.64 335.11L175.75 337.55Z"/><path d="M77.75 349.71L82.64 343.18L79.52 343.88L74.62 349.37Z"/><path d="M186.89 344.61L191.78 346.67L188.66 340.11L183.76 339.76Z"/><path d="M85.77 341.07L90.66 337.08L87.54 336.56L82.64 343.18Z"/><path d="M194.91 349.31L199.8 348.57L196.68 347.11L191.78 346.67Z"/><path d="M93.79 338.12L98.68 339.89L95.56 335.91L90.66 337.08Z"/><path d="M202.93 346.78L207.82 342.36L204.69 344.6L199.8 348.57Z"/><path d="M101.81 344.89L106.7 351.71L103.57 346.87L98.68 339.89Z"/><path d="M109.83 355.84L114.72 355.62L111.59 354.78L106.7 351.71Z"/><path d="M117.85 356.08L122.74 341.37L119.61 343.09L114.72 355.62Z"/><path d="M125.87 345.93L130.76 323.59L127.63 316.86L122.74 341.37Z"/><path d="M133.89 339.41L138.78 324.75L135.65 304.49L130.76 323.59Z"/><path d="M141.9 346.03L146.8 342.01L143.67 317.01L138.78 324.75Z"/><path d="M149.92 356.89L154.81 355.99L151.69 343.48L146.8 342.01Z"/><path d="M157.94 356.14L162.83 352.53L159.71 355.32L154.81 355.99Z"/><path d="M165.96 345.42L170.85 340.95L167.73 347.66L162.83 352.53Z"/><path d="M173.98 338.76L178.87 337.91L175.75 337.55L170.85 340.95Z"/><path d="M72.86 352.19L77.75 349.71L74.62 349.37L69.73 348.66Z"/><path d="M182 342.75L186.89 344.61L183.76 339.76L178.87 337.91Z"/><path d="M80.88 348.88L85.77 341.07L82.64 343.18L77.75 349.71Z"/><path d="M190.02 351.36L194.91 349.31L191.78 346.67L186.89 344.61Z"/><path d="M88.9 341.47L93.79 338.12L90.66 337.08L85.77 341.07Z"/><path d="M198.04 350.45L202.93 346.78L199.8 348.57L194.91 349.31Z"/><path d="M96.92 340.34L101.81 344.89L98.68 339.89L93.79 338.12Z"/><path d="M104.94 348.58L109.83 355.84L106.7 351.71L101.81 344.89Z"/><path d="M112.96 358.44L117.85 356.08L114.72 355.62L109.83 355.84Z"/><path d="M120.97 357.63L125.87 345.93L122.74 341.37L117.85 356.08Z"/><path d="M128.99 354.56L133.89 339.41L130.76 323.59L125.87 345.93Z"/><path d="M137.01 354.54L141.9 346.03L138.78 324.75L133.89 339.41Z"/><path d="M145.03 357.93L149.92 356.89L146.8 342.01L141.9 346.03Z"/><path d="M153.05 358.54L157.94 356.14L154.81 355.99L149.92 356.89Z"/><path d="M161.07 349.52L165.96 345.42L162.83 352.53L157.94 356.14Z"/><path d="M169.09 340.49L173.98 338.76L170.85 340.95L165.96 345.42Z"/><path d="M177.11 342.29L182 342.75L178.87 337.91L173.98 338.76Z"/><path d="M75.99 352.77L80.88 348.88L77.75 349.71L72.86 352.19Z"/><path d="M185.13 350L190.02 351.36L186.89 344.61L182 342.75Z"/><path d="M84.01 348.61L88.9 341.47L85.77 341.07L80.88 348.88Z"/><path d="M193.14 353.29L198.04 350.45L194.91 349.31L190.02 351.36Z"/><path d="M92.02 341.37L96.92 340.34L93.79 338.12L88.9 341.47Z"/><path d="M100.04 341.52L104.94 348.58L101.81 344.89L96.92 340.34Z"/><path d="M108.06 351.7L112.96 358.44L109.83 355.84L104.94 348.58Z"/><path d="M116.08 359.11L120.97 357.63L117.85 356.08L112.96 358.44Z"/><path d="M124.1 360.71L128.99 354.56L125.87 345.93L120.97 357.63Z"/><path d="M132.12 359.82L137.01 354.54L133.89 339.41L128.99 354.56Z"/><path d="M140.14 362.45L145.03 357.93L141.9 346.03L137.01 354.54Z"/><path d="M148.16 359.08L153.05 358.54L149.92 356.89L145.03 357.93Z"/><path d="M156.18 350.79L161.07 349.52L157.94 356.14L153.05 358.54Z"/><path d="M164.2 343.07L169.09 340.49L165.96 345.42L161.07 349.52Z"/><path d="M172.22 342.46L177.11 342.29L173.98 338.76L169.09 340.49Z"/><path d="M180.23 348.97L185.13 350L182 342.75L177.11 342.29Z"/><path d="M79.11 352.95L84.01 348.61L80.88 348.88L75.99 352.77Z"/><path d="M188.25 354.86L193.14 353.29L190.02 351.36L185.13 350Z"/><path d="M87.13 347.99L92.02 341.37L88.9 341.47L84.01 348.61Z"/><path d="M95.15 342.68L100.04 341.52L96.92 340.34L92.02 341.37Z"/><path d="M103.17 344.28L108.06 351.7L104.94 348.58L100.04 341.52Z"/><path d="M111.19 352.04L116.08 359.11L112.96 358.44L108.06 351.7Z"/><path d="M119.21 358.42L124.1 360.71L120.97 357.63L116.08 359.11Z"/><path d="M127.23 360.69L132.12 359.82L128.99 354.56L124.1 360.71Z"/><path d="M135.25 361.31L140.14 362.45L137.01 354.54L132.12 359.82Z"/><path d="M143.27 357.71L148.16 359.08L145.03 357.93L140.14 362.45Z"/><path d="M151.29 351.65L156.18 350.79L153.05 358.54L148.16 359.08Z"/><path d="M159.3 344.41L164.2 343.07L161.07 349.52L156.18 350.79Z"/><path d="M167.32 343.66L172.22 342.46L169.09 340.49L164.2 343.07Z"/><path d="M175.34 349.21L180.23 348.97L177.11 342.29L172.22 342.46Z"/><path d="M183.36 354.3L188.25 354.86L185.13 350L180.23 348.97Z"/><path d="M82.24 355L87.13 347.99L84.01 348.61L79.11 352.95Z"/><path d="M90.26 348.25L95.15 342.68L92.02 341.37L87.13 347.99Z"/><path d="M98.28 343.03L103.17 344.28L100.04 341.52L95.15 342.68Z"/><path d="M106.3 344.85L111.19 352.04L108.06 351.7L103.17 344.28Z"/><path d="M114.32 350.79L119.21 358.42L116.08 359.11L111.19 352.04Z"/><path d="M122.34 355.41L127.23 360.69L124.1 360.71L119.21 358.42Z"/><path d="M130.35 356.75L135.25 361.31L132.12 359.82L127.23 360.69Z"/><path d="M138.37 355.85L143.27 357.71L140.14 362.45L135.25 361.31Z"/><path d="M146.39 350.47L151.29 351.65L148.16 359.08L143.27 357.71Z"/><path d="M154.41 346.02L159.3 344.41L156.18 350.79L151.29 351.65Z"/><path d="M162.43 343.84L167.32 343.66L164.2 343.07L159.3 344.41Z"/><path d="M170.45 349.46L175.34 349.21L172.22 342.46L167.32 343.66Z"/><path d="M178.47 355.98L183.36 354.3L180.23 348.97L175.34 349.21Z"/><path d="M85.37 355.99L90.26 348.25L87.13 347.99L82.24 355Z"/><path d="M93.39 349.33L98.28 343.03L95.15 342.68L90.26 348.25Z"/><path d="M101.41 345.63L106.3 344.85L103.17 344.28L98.28 343.03Z"/><path d="M109.43 345.34L114.32 350.79L111.19 352.04L106.3 344.85Z"/><path d="M117.44 348.04L122.34 355.41L119.21 358.42L114.32 350.79Z"/><path d="M125.46 350.89L130.35 356.75L127.23 360.69L122.34 355.41Z"/><path d="M133.48 351.32L138.37 355.85L135.25 361.31L130.35 356.75Z"/><path d="M141.5 350.03L146.39 350.47L143.27 357.71L138.37 355.85Z"/><path d="M149.52 346.53L154.41 346.02L151.29 351.65L146.39 350.47Z"/><path d="M157.54 345.56L162.43 343.84L159.3 344.41L154.41 346.02Z"/><path d="M165.56 349.41L170.45 349.46L167.32 343.66L162.43 343.84Z"/><path d="M173.58 355.98L178.47 355.98L175.34 349.21L170.45 349.46Z"/><path d="M88.5 356.42L93.39 349.33L90.26 348.25L85.37 355.99Z"/><path d="M96.51 351.82L101.41 345.63L98.28 343.03L93.39 349.33Z"/><path d="M104.53 346.5L109.43 345.34L106.3 344.85L101.41 345.63Z"/><path d="M112.55 346.28L117.44 348.04L114.32 350.79L109.43 345.34Z"/><path d="M120.57 347.32L125.46 350.89L122.34 355.41L117.44 348.04Z"/><path d="M128.59 348.53L133.48 351.32L130.35 356.75L125.46 350.89Z"/><path d="M136.61 347.12L141.5 350.03L138.37 355.85L133.48 351.32Z"/><path d="M144.63 346.62L149.52 346.53L146.39 350.47L141.5 350.03Z"/><path d="M152.65 347.18L157.54 345.56L154.41 346.02L149.52 346.53Z"/><path d="M160.67 351.47L165.56 349.41L162.43 343.84L157.54 345.56Z"/><path d="M168.69 356.72L173.58 355.98L170.45 349.46L165.56 349.41Z"/><path d="M91.62 357.38L96.51 351.82L93.39 349.33L88.5 356.42Z"/><path d="M99.64 353.73L104.53 346.5L101.41 345.63L96.51 351.82Z"/><path d="M107.66 349.88L112.55 346.28L109.43 345.34L104.53 346.5Z"/><path d="M115.68 348.22L120.57 347.32L117.44 348.04L112.55 346.28Z"/><path d="M123.7 347.98L128.59 348.53L125.46 350.89L120.57 347.32Z"/><path d="M131.72 347.67L136.61 347.12L133.48 351.32L128.59 348.53Z"/><path d="M139.74 348.32L144.63 346.62L141.5 350.03L136.61 347.12Z"/><path d="M147.75 349.56L152.65 347.18L149.52 346.53L144.63 346.62Z"/><path d="M155.77 353.37L160.67 351.47L157.54 345.56L152.65 347.18Z"/><path d="M163.79 358.97L168.69 356.72L165.56 349.41L160.67 351.47Z"/><path d="M94.75 359.91L99.64 353.73L96.51 351.82L91.62 357.38Z"/><path d="M102.77 357.29L107.66 349.88L104.53 346.5L99.64 353.73Z"/><path d="M110.79 353.58L115.68 348.22L112.55 346.28L107.66 349.88Z"/><path d="M118.81 351.28L123.7 347.98L120.57 347.32L115.68 348.22Z"/><path d="M126.83 351.13L131.72 347.67L128.59 348.53L123.7 347.98Z"/><path d="M134.84 350.9L139.74 348.32L136.61 347.12L131.72 347.67Z"/><path d="M142.86 354.18L147.75 349.56L144.63 346.62L139.74 348.32Z"/><path d="M150.88 357.99L155.77 353.37L152.65 347.18L147.75 349.56Z"/><path d="M158.9 362.06L163.79 358.97L160.67 351.47L155.77 353.37Z"/><path d="M97.88 362.93L102.77 357.29L99.64 353.73L94.75 359.91Z"/><path d="M105.9 360.43L110.79 353.58L107.66 349.88L102.77 357.29Z"/><path d="M113.91 359.06L118.81 351.28L115.68 348.22L110.79 353.58Z"/><path d="M121.93 356.77L126.83 351.13L123.7 347.98L118.81 351.28Z"/><path d="M129.95 357.04L134.84 350.9L131.72 347.67L126.83 351.13Z"/><path d="M137.97 359.17L142.86 354.18L139.74 348.32L134.84 350.9Z"/><path d="M145.99 360.61L150.88 357.99L147.75 349.56L142.86 354.18Z"/><path d="M154.01 362.7L158.9 362.06L155.77 353.37L150.88 357.99Z"/><path d="M101 364.79L105.9 360.43L102.77 357.29L97.88 362.93Z"/><path d="M109.02 364.53L113.91 359.06L110.79 353.58L105.9 360.43Z"/><path d="M117.04 362.58L121.93 356.77L118.81 351.28L113.91 359.06Z"/><path d="M125.06 362.12L129.95 357.04L126.83 351.13L121.93 356.77Z"/><path d="M133.08 363.45L137.97 359.17L134.84 350.9L129.95 357.04Z"/><path d="M141.1 363.84L145.99 360.61L142.86 354.18L137.97 359.17Z"/><path d="M149.12 365.16L154.01 362.7L150.88 357.99L145.99 360.61Z"/><path d="M104.13 365.75L109.02 364.53L105.9 360.43L101 364.79Z"/><path d="M112.15 365.65L117.04 362.58L113.91 359.06L109.02 364.53Z"/><path d="M120.17 366L125.06 362.12L121.93 356.77L117.04 362.58Z"/><path d="M128.19 366.34L133.08 363.45L129.95 357.04L125.06 362.12Z"/><path d="M136.21 366.09L141.1 363.84L137.97 359.17L133.08 363.45Z"/><path d="M144.22 365.34L149.12 365.16L145.99 360.61L141.1 363.84Z"/><path d="M107.26 365.45L112.15 365.65L109.02 364.53L104.13 365.75Z"/><path d="M115.28 366.72L120.17 366L117.04 362.58L112.15 365.65Z"/><path d="M123.29 367.82L128.19 366.34L125.06 362.12L120.17 366Z"/><path d="M131.31 366.44L136.21 366.09L133.08 363.45L128.19 366.34Z"/><path d="M139.33 367.16L144.22 365.34L141.1 363.84L136.21 366.09Z"/><path d="M110.38 365.02L115.28 366.72L112.15 365.65L107.26 365.45Z"/><path d="M118.4 366.41L123.29 367.82L120.17 366L115.28 366.72Z"/><path d="M126.42 366.06L131.31 366.44L128.19 366.34L123.29 367.82Z"/><path d="M134.44 365.6L139.33 367.16L136.21 366.09L131.31 366.44Z"/><path d="M113.51 364.04L118.4 366.41L115.28 366.72L110.38 365.02Z"/><path d="M121.53 364.4L126.42 366.06L123.29 367.82L118.4 366.41Z"/><path d="M129.55 365.18L134.44 365.6L131.31 366.44L126.42 366.06Z"/><path d="M116.64 363.76L121.53 364.4L118.4 366.41L113.51 364.04Z"/><path d="M124.66 362.88L129.55 365.18L126.42 366.06L121.53 364.4Z"/><path d="M119.77 364.17L124.66 362.88L121.53 364.4L116.64 363.76Z"/></g>
<g font-family="&quot;Liberation Sans&quot;, sans-serif" font-size="6.7" fill="#262626" stroke="#262626" stroke-width="0.12"><text x="19.19" y="351.92" text-anchor="end">-20</text><text x="19.19" y="328.42" text-anchor="end">0</text><text x="19.19" y="304.92" text-anchor="end">20</text><text x="19.19" y="281.42" text-anchor="end">40</text><text x="19.19" y="257.92" text-anchor="end">60</text><text x="112.3" y="403.41" text-anchor="end">0</text><text x="81.03" y="388.88" text-anchor="end">10</text><text x="49.76" y="374.35" text-anchor="end">20</text><text x="18.49" y="359.82" text-anchor="end">30</text><text x="123.6" y="403.81">0</text><text x="148.06" y="397.09">5</text><text x="172.52" y="390.37">10</text><text x="196.98" y="383.65">15</text><text x="221.44" y="376.93">20</text><text x="245.9" y="370.21">25</text></g>
<text transform="translate(117.4 420.7) scale(0.98 1)" text-anchor="middle" font-family="&quot;Liberation Serif&quot;, serif" font-size="14.0" fill="#000">(<tspan font-weight="bold" font-size="12.4">c</tspan>)</text><path d="M431.96 387.48L338.15 343.89M456.42 380.76L362.61 337.17M480.88 374.04L387.07 330.45M505.34 367.32L411.53 323.73M529.8 360.6L435.99 317.01M376.23 379.67L498.53 346.07M344.96 365.14L467.26 331.54M313.69 350.61L435.99 317.01M338.15 343.89L338.15 249.89M362.61 337.17L362.61 243.17M387.07 330.45L387.07 236.45M411.53 323.73L411.53 229.73M435.99 317.01L435.99 223.01M313.69 327.11L435.99 293.51M313.69 303.61L435.99 270.01M313.69 280.11L435.99 246.51M313.69 256.61L435.99 223.01M529.8 360.6L529.8 266.6M498.53 346.07L498.53 252.07M467.26 331.54L467.26 237.54M529.8 337.1L435.99 293.51M529.8 313.6L435.99 270.01M529.8 290.1L435.99 246.51M529.8 266.6L435.99 223.01" stroke="#d6d6d6" stroke-width="0.6" fill="none"/>
<path d="M407.5 394.2L529.8 360.6M407.5 394.2L313.69 350.61M313.69 350.61L313.69 256.61M407.5 394.2L410.22 395.46M431.96 387.48L434.68 388.74M456.42 380.76L459.14 382.02M480.88 374.04L483.6 375.3M505.34 367.32L508.06 368.58M529.8 360.6L532.52 361.86M407.5 394.2L404.61 394.99M376.23 379.67L373.34 380.46M344.96 365.14L342.07 365.93M313.69 350.61L310.8 351.4M313.69 350.61L310.97 349.35M313.69 327.11L310.97 325.85M313.69 303.61L310.97 302.35M313.69 280.11L310.97 278.85M313.69 256.61L310.97 255.35" stroke="#262626" stroke-width="0.85" fill="none"/>
<g fill="#fff" stroke="#111" stroke-width="0.65" stroke-linejoin="round"><path d="M442.8 313.51L447.69 310.15L444.57 308.22L439.67 310.32Z"/><path d="M437.91 318.15L442.8 313.51L439.67 310.32L434.78 314.38Z"/><path d="M445.93 318.43L450.82 314.3L447.69 310.15L442.8 313.51Z"/><path d="M433.02 321.89L437.91 318.15L434.78 314.38L429.89 318.22Z"/><path d="M441.03 322.04L445.93 318.43L442.8 313.51L437.91 318.15Z"/><path d="M449.05 321.54L453.95 317.6L450.82 314.3L445.93 318.43Z"/><path d="M428.12 324.12L433.02 321.89L429.89 318.22L425 321.65Z"/><path d="M436.14 323.11L441.03 322.04L437.91 318.15L433.02 321.89Z"/><path d="M444.16 323.86L449.05 321.54L445.93 318.43L441.03 322.04Z"/><path d="M452.18 324.65L457.07 321.86L453.95 317.6L449.05 321.54Z"/><path d="M423.23 325.03L428.12 324.12L425 321.65L420.11 324.52Z"/><path d="M431.25 323.16L436.14 323.11L433.02 321.89L428.12 324.12Z"/><path d="M439.27 322.69L444.16 323.86L441.03 322.04L436.14 323.11Z"/><path d="M447.29 323.63L452.18 324.65L449.05 321.54L444.16 323.86Z"/><path d="M455.31 325.46L460.2 325.16L457.07 321.86L452.18 324.65Z"/><path d="M418.34 324.06L423.23 325.03L420.11 324.52L415.21 325.49Z"/><path d="M426.36 321.73L431.25 323.16L428.12 324.12L423.23 325.03Z"/><path d="M434.38 320.43L439.27 322.69L436.14 323.11L431.25 323.16Z"/><path d="M442.4 320.69L447.29 323.63L444.16 323.86L439.27 322.69Z"/><path d="M450.42 322.69L455.31 325.46L452.18 324.65L447.29 323.63Z"/><path d="M458.44 324.82L463.33 326.66L460.2 325.16L455.31 325.46Z"/><path d="M413.45 322.76L418.34 324.06L415.21 325.49L410.32 325.52Z"/><path d="M421.47 319.88L426.36 321.73L423.23 325.03L418.34 324.06Z"/><path d="M429.49 318.35L434.38 320.43L431.25 323.16L426.36 321.73Z"/><path d="M437.5 317.62L442.4 320.69L439.27 322.69L434.38 320.43Z"/><path d="M445.52 318.81L450.42 322.69L447.29 323.63L442.4 320.69Z"/><path d="M453.54 321.15L458.44 324.82L455.31 325.46L450.42 322.69Z"/><path d="M461.56 323.5L466.45 327.14L463.33 326.66L458.44 324.82Z"/><path d="M408.56 323.4L413.45 322.76L410.32 325.52L405.43 326.08Z"/><path d="M416.57 318.54L421.47 319.88L418.34 324.06L413.45 322.76Z"/><path d="M424.59 317.21L429.49 318.35L426.36 321.73L421.47 319.88Z"/><path d="M432.61 317.17L437.5 317.62L434.38 320.43L429.49 318.35Z"/><path d="M440.63 317.4L445.52 318.81L442.4 320.69L437.5 317.62Z"/><path d="M448.65 318.51L453.54 321.15L450.42 322.69L445.52 318.81Z"/><path d="M456.67 319.71L461.56 323.5L458.44 324.82L453.54 321.15Z"/><path d="M464.69 323.32L469.58 327.97L466.45 327.14L461.56 323.5Z"/><path d="M403.66 324.75L408.56 323.4L405.43 326.08L400.54 327.85Z"/><path d="M411.68 319.32L416.57 318.54L413.45 322.76L408.56 323.4Z"/><path d="M419.7 318.76L424.59 317.21L421.47 319.88L416.57 318.54Z"/><path d="M427.72 319.5L432.61 317.17L429.49 318.35L424.59 317.21Z"/><path d="M435.74 320.16L440.63 317.4L437.5 317.62L432.61 317.17Z"/><path d="M443.76 319.96L448.65 318.51L445.52 318.81L440.63 317.4Z"/><path d="M451.78 318.96L456.67 319.71L453.54 321.15L448.65 318.51Z"/><path d="M459.8 319.68L464.69 323.32L461.56 323.5L456.67 319.71Z"/><path d="M467.82 323.75L472.71 328.71L469.58 327.97L464.69 323.32Z"/><path d="M398.77 324.9L403.66 324.75L400.54 327.85L395.64 328.82Z"/><path d="M406.79 321.07L411.68 319.32L408.56 323.4L403.66 324.75Z"/><path d="M414.81 320.76L419.7 318.76L416.57 318.54L411.68 319.32Z"/><path d="M422.83 324.03L427.72 319.5L424.59 317.21L419.7 318.76Z"/><path d="M430.85 326.64L435.74 320.16L432.61 317.17L427.72 319.5Z"/><path d="M438.87 325.72L443.76 319.96L440.63 317.4L435.74 320.16Z"/><path d="M446.89 324.2L451.78 318.96L448.65 318.51L443.76 319.96Z"/><path d="M454.91 320.47L459.8 319.68L456.67 319.71L451.78 318.96Z"/><path d="M462.92 320.48L467.82 323.75L464.69 323.32L459.8 319.68Z"/><path d="M470.94 325.67L475.84 329.96L472.71 328.71L467.82 323.75Z"/><path d="M393.88 325.82L398.77 324.9L395.64 328.82L390.75 330.5Z"/><path d="M401.9 321.97L406.79 321.07L403.66 324.75L398.77 324.9Z"/><path d="M409.92 323.31L414.81 320.76L411.68 319.32L406.79 321.07Z"/><path d="M417.94 328.82L422.83 324.03L419.7 318.76L414.81 320.76Z"/><path d="M425.96 333.19L430.85 326.64L427.72 319.5L422.83 324.03Z"/><path d="M433.98 334.74L438.87 325.72L435.74 320.16L430.85 326.64Z"/><path d="M441.99 333.07L446.89 324.2L443.76 319.96L438.87 325.72Z"/><path d="M450.01 328.18L454.91 320.47L451.78 318.96L446.89 324.2Z"/><path d="M458.03 322.79L462.92 320.48L459.8 319.68L454.91 320.47Z"/><path d="M466.05 322.06L470.94 325.67L467.82 323.75L462.92 320.48Z"/><path d="M474.07 326.94L478.96 331.62L475.84 329.96L470.94 325.67Z"/><path d="M388.99 328L393.88 325.82L390.75 330.5L385.86 331.93Z"/><path d="M397.01 323.17L401.9 321.97L398.77 324.9L393.88 325.82Z"/><path d="M405.03 324.93L409.92 323.31L406.79 321.07L401.9 321.97Z"/><path d="M413.05 332.84L417.94 328.82L414.81 320.76L409.92 323.31Z"/><path d="M421.06 338.34L425.96 333.19L422.83 324.03L417.94 328.82Z"/><path d="M429.08 340.93L433.98 334.74L430.85 326.64L425.96 333.19Z"/><path d="M437.1 341.32L441.99 333.07L438.87 325.72L433.98 334.74Z"/><path d="M445.12 338.97L450.01 328.18L446.89 324.2L441.99 333.07Z"/><path d="M453.14 331.67L458.03 322.79L454.91 320.47L450.01 328.18Z"/><path d="M461.16 325.58L466.05 322.06L462.92 320.48L458.03 322.79Z"/><path d="M469.18 323.72L474.07 326.94L470.94 325.67L466.05 322.06Z"/><path d="M477.2 329.17L482.09 333.76L478.96 331.62L474.07 326.94Z"/><path d="M384.1 331.91L388.99 328L385.86 331.93L380.97 333.87Z"/><path d="M392.12 324.19L397.01 323.17L393.88 325.82L388.99 328Z"/><path d="M400.13 325.73L405.03 324.93L401.9 321.97L397.01 323.17Z"/><path d="M408.15 334.4L413.05 332.84L409.92 323.31L405.03 324.93Z"/><path d="M416.17 342.03L421.06 338.34L417.94 328.82L413.05 332.84Z"/><path d="M424.19 344.07L429.08 340.93L425.96 333.19L421.06 338.34Z"/><path d="M432.21 343.69L437.1 341.32L433.98 334.74L429.08 340.93Z"/><path d="M440.23 344.09L445.12 338.97L441.99 333.07L437.1 341.32Z"/><path d="M448.25 342.2L453.14 331.67L450.01 328.18L445.12 338.97Z"/><path d="M456.27 334.73L461.16 325.58L458.03 322.79L453.14 331.67Z"/><path d="M464.29 327.03L469.18 323.72L466.05 322.06L461.16 325.58Z"/><path d="M472.31 325.04L477.2 329.17L474.07 326.94L469.18 323.72Z"/><path d="M480.32 332.91L485.22 336.22L482.09 333.76L477.2 329.17Z"/><path d="M379.2 335.38L384.1 331.91L380.97 333.87L376.08 335.58Z"/><path d="M387.22 327.43L392.12 324.19L388.99 328L384.1 331.91Z"/><path d="M395.24 325.75L400.13 325.73L397.01 323.17L392.12 324.19Z"/><path d="M403.26 334L408.15 334.4L405.03 324.93L400.13 325.73Z"/><path d="M411.28 343.68L416.17 342.03L413.05 332.84L408.15 334.4Z"/><path d="M419.3 344.23L424.19 344.07L421.06 338.34L416.17 342.03Z"/><path d="M427.32 340.07L432.21 343.69L429.08 340.93L424.19 344.07Z"/><path d="M435.34 340.02L440.23 344.09L437.1 341.32L432.21 343.69Z"/><path d="M443.36 344.27L448.25 342.2L445.12 338.97L440.23 344.09Z"/><path d="M451.38 344.49L456.27 334.73L453.14 331.67L448.25 342.2Z"/><path d="M459.39 336.04L464.29 327.03L461.16 325.58L456.27 334.73Z"/><path d="M467.41 326.82L472.31 325.04L469.18 323.72L464.29 327.03Z"/><path d="M475.43 327.89L480.32 332.91L477.2 329.17L472.31 325.04Z"/><path d="M374.31 338.41L379.2 335.38L376.08 335.58L371.18 337.16Z"/><path d="M483.45 336.48L488.34 337.59L485.22 336.22L480.32 332.91Z"/><path d="M382.33 331.37L387.22 327.43L384.1 331.91L379.2 335.38Z"/><path d="M390.35 326.63L395.24 325.75L392.12 324.19L387.22 327.43Z"/><path d="M398.37 333.55L403.26 334L400.13 325.73L395.24 325.75Z"/><path d="M406.39 343.79L411.28 343.68L408.15 334.4L403.26 334Z"/><path d="M414.41 344.93L419.3 344.23L416.17 342.03L411.28 343.68Z"/><path d="M422.43 334.59L427.32 340.07L424.19 344.07L419.3 344.23Z"/><path d="M430.44 328.28L435.34 340.02L432.21 343.69L427.32 340.07Z"/><path d="M438.46 334.23L443.36 344.27L440.23 344.09L435.34 340.02Z"/><path d="M446.48 345.78L451.38 344.49L448.25 342.2L443.36 344.27Z"/><path d="M454.5 345.77L459.39 336.04L456.27 334.73L451.38 344.49Z"/><path d="M462.52 334.8L467.41 326.82L464.29 327.03L459.39 336.04Z"/><path d="M470.54 327.8L475.43 327.89L472.31 325.04L467.41 326.82Z"/><path d="M369.42 339.63L374.31 338.41L371.18 337.16L366.29 337.59Z"/><path d="M478.56 331.7L483.45 336.48L480.32 332.91L475.43 327.89Z"/><path d="M377.44 335.98L382.33 331.37L379.2 335.38L374.31 338.41Z"/><path d="M486.58 339.41L491.47 338.53L488.34 337.59L483.45 336.48Z"/><path d="M385.46 328.5L390.35 326.63L387.22 327.43L382.33 331.37Z"/><path d="M393.48 332.11L398.37 333.55L395.24 325.75L390.35 326.63Z"/><path d="M401.5 343.63L406.39 343.79L403.26 334L398.37 333.55Z"/><path d="M409.52 346.7L414.41 344.93L411.28 343.68L406.39 343.79Z"/><path d="M417.53 332.73L422.43 334.59L419.3 344.23L414.41 344.93Z"/><path d="M425.55 315.84L430.44 328.28L427.32 340.07L422.43 334.59Z"/><path d="M433.57 315.56L438.46 334.23L435.34 340.02L430.44 328.28Z"/><path d="M441.59 333.11L446.48 345.78L443.36 344.27L438.46 334.23Z"/><path d="M449.61 348.22L454.5 345.77L451.38 344.49L446.48 345.78Z"/><path d="M457.63 344.78L462.52 334.8L459.39 336.04L454.5 345.77Z"/><path d="M465.65 332.56L470.54 327.8L467.41 326.82L462.52 334.8Z"/><path d="M364.53 340.76L369.42 339.63L366.29 337.59L361.4 336.57Z"/><path d="M473.67 329L478.56 331.7L475.43 327.89L470.54 327.8Z"/><path d="M372.55 339.63L377.44 335.98L374.31 338.41L369.42 339.63Z"/><path d="M481.69 336.7L486.58 339.41L483.45 336.48L478.56 331.7Z"/><path d="M380.57 331.93L385.46 328.5L382.33 331.37L377.44 335.98Z"/><path d="M489.71 341.65L494.6 339.42L491.47 338.53L486.58 339.41Z"/><path d="M388.59 330.37L393.48 332.11L390.35 326.63L385.46 328.5Z"/><path d="M396.6 340.73L401.5 343.63L398.37 333.55L393.48 332.11Z"/><path d="M404.62 349.23L409.52 346.7L406.39 343.79L401.5 343.63Z"/><path d="M412.64 337L417.53 332.73L414.41 344.93L409.52 346.7Z"/><path d="M420.66 311.88L425.55 315.84L422.43 334.59L417.53 332.73Z"/><path d="M428.68 298.67L433.57 315.56L430.44 328.28L425.55 315.84Z"/><path d="M436.7 311.17L441.59 333.11L438.46 334.23L433.57 315.56Z"/><path d="M444.72 337.93L449.61 348.22L446.48 345.78L441.59 333.11Z"/><path d="M452.74 350.35L457.63 344.78L454.5 345.77L449.61 348.22Z"/><path d="M460.76 341.31L465.65 332.56L462.52 334.8L457.63 344.78Z"/><path d="M359.64 340.16L364.53 340.76L361.4 336.57L356.51 335.05Z"/><path d="M468.77 330.37L473.67 329L470.54 327.8L465.65 332.56Z"/><path d="M367.65 342.96L372.55 339.63L369.42 339.63L364.53 340.76Z"/><path d="M476.79 332.37L481.69 336.7L478.56 331.7L473.67 329Z"/><path d="M375.67 336.95L380.57 331.93L377.44 335.98L372.55 339.63Z"/><path d="M484.81 340.98L489.71 341.65L486.58 339.41L481.69 336.7Z"/><path d="M383.69 330.77L388.59 330.37L385.46 328.5L380.57 331.93Z"/><path d="M492.83 342.8L497.72 338.1L494.6 339.42L489.71 341.65Z"/><path d="M391.71 336.95L396.6 340.73L393.48 332.11L388.59 330.37Z"/><path d="M399.73 349.16L404.62 349.23L401.5 343.63L396.6 340.73Z"/><path d="M407.75 345.71L412.64 337L409.52 346.7L404.62 349.23Z"/><path d="M415.77 318.26L420.66 311.88L417.53 332.73L412.64 337Z"/><path d="M423.79 293.46L428.68 298.67L425.55 315.84L420.66 311.88Z"/><path d="M431.81 292.78L436.7 311.17L433.57 315.56L428.68 298.67Z"/><path d="M439.83 318.39L444.72 337.93L441.59 333.11L436.7 311.17Z"/><path d="M447.85 346.46L452.74 350.35L449.61 348.22L444.72 337.93Z"/><path d="M455.86 349.72L460.76 341.31L457.63 344.78L452.74 350.35Z"/><path d="M354.74 338.41L359.64 340.16L356.51 335.05L351.62 334.31Z"/><path d="M463.88 337.31L468.77 330.37L465.65 332.56L460.76 341.31Z"/><path d="M362.76 344.07L367.65 342.96L364.53 340.76L359.64 340.16Z"/><path d="M471.9 331.16L476.79 332.37L473.67 329L468.77 330.37Z"/><path d="M370.78 342.04L375.67 336.95L372.55 339.63L367.65 342.96Z"/><path d="M479.92 337.13L484.81 340.98L481.69 336.7L476.79 332.37Z"/><path d="M378.8 334L383.69 330.77L380.57 331.93L375.67 336.95Z"/><path d="M487.94 344.85L492.83 342.8L489.71 341.65L484.81 340.98Z"/><path d="M386.82 333.75L391.71 336.95L388.59 330.37L383.69 330.77Z"/><path d="M495.96 341.88L500.85 337.25L497.72 338.1L492.83 342.8Z"/><path d="M394.84 345.25L399.73 349.16L396.6 340.73L391.71 336.95Z"/><path d="M402.86 352.45L407.75 345.71L404.62 349.23L399.73 349.16Z"/><path d="M410.88 333.6L415.77 318.26L412.64 337L407.75 345.71Z"/><path d="M418.9 301.65L423.79 293.46L420.66 311.88L415.77 318.26Z"/><path d="M426.92 287.06L431.81 292.78L428.68 298.67L423.79 293.46Z"/><path d="M434.93 301.8L439.83 318.39L436.7 311.17L431.81 292.78Z"/><path d="M442.95 334L447.85 346.46L444.72 337.93L439.83 318.39Z"/><path d="M450.97 352.58L455.86 349.72L452.74 350.35L447.85 346.46Z"/><path d="M349.85 337.92L354.74 338.41L351.62 334.31L346.73 335.88Z"/><path d="M458.99 345.78L463.88 337.31L460.76 341.31L455.86 349.72Z"/><path d="M357.87 343.15L362.76 344.07L359.64 340.16L354.74 338.41Z"/><path d="M467.01 334.6L471.9 331.16L468.77 330.37L463.88 337.31Z"/><path d="M365.89 345.82L370.78 342.04L367.65 342.96L362.76 344.07Z"/><path d="M475.03 334.48L479.92 337.13L476.79 332.37L471.9 331.16Z"/><path d="M373.91 338.8L378.8 334L375.67 336.95L370.78 342.04Z"/><path d="M483.05 343L487.94 344.85L484.81 340.98L479.92 337.13Z"/><path d="M381.93 334.13L386.82 333.75L383.69 330.77L378.8 334Z"/><path d="M491.07 345.87L495.96 341.88L492.83 342.8L487.94 344.85Z"/><path d="M389.95 339.71L394.84 345.25L391.71 336.95L386.82 333.75Z"/><path d="M499.09 340.34L503.98 336.96L500.85 337.25L495.96 341.88Z"/><path d="M397.97 352.51L402.86 352.45L399.73 349.16L394.84 345.25Z"/><path d="M405.99 348.61L410.88 333.6L407.75 345.71L402.86 352.45Z"/><path d="M414 321.06L418.9 301.65L415.77 318.26L410.88 333.6Z"/><path d="M422.02 295.35L426.92 287.06L423.79 293.46L418.9 301.65Z"/><path d="M430.04 296.49L434.93 301.8L431.81 292.78L426.92 287.06Z"/><path d="M438.06 322.07L442.95 334L439.83 318.39L434.93 301.8Z"/><path d="M446.08 348.93L450.97 352.58L447.85 346.46L442.95 334Z"/><path d="M454.1 352.82L458.99 345.78L455.86 349.72L450.97 352.58Z"/><path d="M352.98 341.75L357.87 343.15L354.74 338.41L349.85 337.92Z"/><path d="M462.12 340.66L467.01 334.6L463.88 337.31L458.99 345.78Z"/><path d="M361 346.87L365.89 345.82L362.76 344.07L357.87 343.15Z"/><path d="M470.14 334.19L475.03 334.48L471.9 331.16L467.01 334.6Z"/><path d="M369.02 344.46L373.91 338.8L370.78 342.04L365.89 345.82Z"/><path d="M478.16 340.05L483.05 343L479.92 337.13L475.03 334.48Z"/><path d="M377.04 337.2L381.93 334.13L378.8 334L373.91 338.8Z"/><path d="M486.18 347.21L491.07 345.87L487.94 344.85L483.05 343Z"/><path d="M385.06 336.43L389.95 339.71L386.82 333.75L381.93 334.13Z"/><path d="M494.19 344.83L499.09 340.34L495.96 341.88L491.07 345.87Z"/><path d="M393.07 346.51L397.97 352.51L394.84 345.25L389.95 339.71Z"/><path d="M502.21 339.47L507.11 337.05L503.98 336.96L499.09 340.34Z"/><path d="M401.09 355.42L405.99 348.61L402.86 352.45L397.97 352.51Z"/><path d="M409.11 342.47L414 321.06L410.88 333.6L405.99 348.61Z"/><path d="M417.13 316.8L422.02 295.35L418.9 301.65L414 321.06Z"/><path d="M425.15 304.3L430.04 296.49L426.92 287.06L422.02 295.35Z"/><path d="M433.17 317.6L438.06 322.07L434.93 301.8L430.04 296.49Z"/><path d="M441.19 343.5L446.08 348.93L442.95 334L438.06 322.07Z"/><path d="M449.21 355.77L454.1 352.82L450.97 352.58L446.08 348.93Z"/><path d="M457.23 347.64L462.12 340.66L458.99 345.78L454.1 352.82Z"/><path d="M356.11 345.51L361 346.87L357.87 343.15L352.98 341.75Z"/><path d="M465.25 337.02L470.14 334.19L467.01 334.6L462.12 340.66Z"/><path d="M364.12 348.38L369.02 344.46L365.89 345.82L361 346.87Z"/><path d="M473.26 338.49L478.16 340.05L475.03 334.48L470.14 334.19Z"/><path d="M372.14 343.11L377.04 337.2L373.91 338.8L369.02 344.46Z"/><path d="M481.28 346.31L486.18 347.21L483.05 343L478.16 340.05Z"/><path d="M380.16 336.75L385.06 336.43L381.93 334.13L377.04 337.2Z"/><path d="M489.3 348.34L494.19 344.83L491.07 345.87L486.18 347.21Z"/><path d="M388.18 340.12L393.07 346.51L389.95 339.71L385.06 336.43Z"/><path d="M497.32 343.24L502.21 339.47L499.09 340.34L494.19 344.83Z"/><path d="M396.2 352.62L401.09 355.42L397.97 352.51L393.07 346.51Z"/><path d="M404.22 355.71L409.11 342.47L405.99 348.61L401.09 355.42Z"/><path d="M412.24 341.46L417.13 316.8L414 321.06L409.11 342.47Z"/><path d="M420.26 324.17L425.15 304.3L422.02 295.35L417.13 316.8Z"/><path d="M428.28 323.77L433.17 317.6L430.04 296.49L425.15 304.3Z"/><path d="M436.3 341.57L441.19 343.5L438.06 322.07L433.17 317.6Z"/><path d="M444.31 356.2L449.21 355.77L446.08 348.93L441.19 343.5Z"/><path d="M452.33 352.87L457.23 347.64L454.1 352.82L449.21 355.77Z"/><path d="M460.35 341.84L465.25 337.02L462.12 340.66L457.23 347.64Z"/><path d="M359.23 349.13L364.12 348.38L361 346.87L356.11 345.51Z"/><path d="M468.37 337.76L473.26 338.49L470.14 334.19L465.25 337.02Z"/><path d="M367.25 349.01L372.14 343.11L369.02 344.46L364.12 348.38Z"/><path d="M476.39 345.07L481.28 346.31L478.16 340.05L473.26 338.49Z"/><path d="M375.27 341.84L380.16 336.75L377.04 337.2L372.14 343.11Z"/><path d="M484.41 350.53L489.3 348.34L486.18 347.21L481.28 346.31Z"/><path d="M383.29 337.55L388.18 340.12L385.06 336.43L380.16 336.75Z"/><path d="M492.43 346.76L497.32 343.24L494.19 344.83L489.3 348.34Z"/><path d="M391.31 345.06L396.2 352.62L393.07 346.51L388.18 340.12Z"/><path d="M399.33 355.95L404.22 355.71L401.09 355.42L396.2 352.62Z"/><path d="M407.35 356.48L412.24 341.46L409.11 342.47L404.22 355.71Z"/><path d="M415.37 346.25L420.26 324.17L417.13 316.8L412.24 341.46Z"/><path d="M423.39 338.86L428.28 323.77L425.15 304.3L420.26 324.17Z"/><path d="M431.4 345.69L436.3 341.57L433.17 317.6L428.28 323.77Z"/><path d="M439.42 356.81L444.31 356.2L441.19 343.5L436.3 341.57Z"/><path d="M447.44 356.29L452.33 352.87L449.21 355.77L444.31 356.2Z"/><path d="M455.46 345.52L460.35 341.84L457.23 347.64L452.33 352.87Z"/><path d="M463.48 338.71L468.37 337.76L465.25 337.02L460.35 341.84Z"/><path d="M362.36 351.12L367.25 349.01L364.12 348.38L359.23 349.13Z"/><path d="M471.5 343.09L476.39 345.07L473.26 338.49L468.37 337.76Z"/><path d="M370.38 348.86L375.27 341.84L372.14 343.11L367.25 349.01Z"/><path d="M479.52 351.24L484.41 350.53L481.28 346.31L476.39 345.07Z"/><path d="M378.4 340.76L383.29 337.55L380.16 336.75L375.27 341.84Z"/><path d="M487.54 349.88L492.43 346.76L489.3 348.34L484.41 350.53Z"/><path d="M386.42 339.41L391.31 345.06L388.18 340.12L383.29 337.55Z"/><path d="M394.44 348.26L399.33 355.95L396.2 352.62L391.31 345.06Z"/><path d="M402.45 358.22L407.35 356.48L404.22 355.71L399.33 355.95Z"/><path d="M410.47 358.13L415.37 346.25L412.24 341.46L407.35 356.48Z"/><path d="M418.49 354.21L423.39 338.86L420.26 324.17L415.37 346.25Z"/><path d="M426.51 354.59L431.4 345.69L428.28 323.77L423.39 338.86Z"/><path d="M434.53 358.66L439.42 356.81L436.3 341.57L431.4 345.69Z"/><path d="M442.55 358.34L447.44 356.29L444.31 356.2L439.42 356.81Z"/><path d="M450.57 349.41L455.46 345.52L452.33 352.87L447.44 356.29Z"/><path d="M458.59 340.83L463.48 338.71L460.35 341.84L455.46 345.52Z"/><path d="M466.61 342.06L471.5 343.09L468.37 337.76L463.48 338.71Z"/><path d="M365.49 352.97L370.38 348.86L367.25 349.01L362.36 351.12Z"/><path d="M474.63 350.11L479.52 351.24L476.39 345.07L471.5 343.09Z"/><path d="M373.51 347.84L378.4 340.76L375.27 341.84L370.38 348.86Z"/><path d="M482.64 352.8L487.54 349.88L484.41 350.53L479.52 351.24Z"/><path d="M381.52 341.14L386.42 339.41L383.29 337.55L378.4 340.76Z"/><path d="M389.54 341.42L394.44 348.26L391.31 345.06L386.42 339.41Z"/><path d="M397.56 350.67L402.45 358.22L399.33 355.95L394.44 348.26Z"/><path d="M405.58 358.63L410.47 358.13L407.35 356.48L402.45 358.22Z"/><path d="M413.6 360.62L418.49 354.21L415.37 346.25L410.47 358.13Z"/><path d="M421.62 361.03L426.51 354.59L423.39 338.86L418.49 354.21Z"/><path d="M429.64 361.63L434.53 358.66L431.4 345.69L426.51 354.59Z"/><path d="M437.66 359L442.55 358.34L439.42 356.81L434.53 358.66Z"/><path d="M445.68 351.52L450.57 349.41L447.44 356.29L442.55 358.34Z"/><path d="M453.7 342.54L458.59 340.83L455.46 345.52L450.57 349.41Z"/><path d="M461.72 342.64L466.61 342.06L463.48 338.71L458.59 340.83Z"/><path d="M469.73 349.29L474.63 350.11L471.5 343.09L466.61 342.06Z"/><path d="M368.61 354.15L373.51 347.84L370.38 348.86L365.49 352.97Z"/><path d="M477.75 353.95L482.64 352.8L479.52 351.24L474.63 350.11Z"/><path d="M376.63 348.1L381.52 341.14L378.4 340.76L373.51 347.84Z"/><path d="M384.65 341.89L389.54 341.42L386.42 339.41L381.52 341.14Z"/><path d="M392.67 343.77L397.56 350.67L394.44 348.26L389.54 341.42Z"/><path d="M400.69 351.13L405.58 358.63L402.45 358.22L397.56 350.67Z"/><path d="M408.71 358.1L413.6 360.62L410.47 358.13L405.58 358.63Z"/><path d="M416.73 361.49L421.62 361.03L418.49 354.21L413.6 360.62Z"/><path d="M424.75 361.26L429.64 361.63L426.51 354.59L421.62 361.03Z"/><path d="M432.77 358.61L437.66 359L434.53 358.66L429.64 361.63Z"/><path d="M440.79 351.9L445.68 351.52L442.55 358.34L437.66 359Z"/><path d="M448.8 345.21L453.7 342.54L450.57 349.41L445.68 351.52Z"/><path d="M456.82 343.05L461.72 342.64L458.59 340.83L453.7 342.54Z"/><path d="M464.84 348.96L469.73 349.29L466.61 342.06L461.72 342.64Z"/><path d="M472.86 354.36L477.75 353.95L474.63 350.11L469.73 349.29Z"/><path d="M371.74 354.58L376.63 348.1L373.51 347.84L368.61 354.15Z"/><path d="M379.76 348.61L384.65 341.89L381.52 341.14L376.63 348.1Z"/><path d="M387.78 343.54L392.67 343.77L389.54 341.42L384.65 341.89Z"/><path d="M395.8 345.26L400.69 351.13L397.56 350.67L392.67 343.77Z"/><path d="M403.82 350.69L408.71 358.1L405.58 358.63L400.69 351.13Z"/><path d="M411.84 355.8L416.73 361.49L413.6 360.62L408.71 358.1Z"/><path d="M419.86 357.21L424.75 361.26L421.62 361.03L416.73 361.49Z"/><path d="M427.87 355.86L432.77 358.61L429.64 361.63L424.75 361.26Z"/><path d="M435.89 351.16L440.79 351.9L437.66 359L432.77 358.61Z"/><path d="M443.91 345.34L448.8 345.21L445.68 351.52L440.79 351.9Z"/><path d="M451.93 344.84L456.82 343.05L453.7 342.54L448.8 345.21Z"/><path d="M459.95 349.19L464.84 348.96L461.72 342.64L456.82 343.05Z"/><path d="M467.97 355.11L472.86 354.36L469.73 349.29L464.84 348.96Z"/><path d="M374.87 355.23L379.76 348.61L376.63 348.1L371.74 354.58Z"/><path d="M382.89 349.71L387.78 343.54L384.65 341.89L379.76 348.61Z"/><path d="M390.91 345.6L395.8 345.26L392.67 343.77L387.78 343.54Z"/><path d="M398.93 346.08L403.82 350.69L400.69 351.13L395.8 345.26Z"/><path d="M406.94 348.62L411.84 355.8L408.71 358.1L403.82 350.69Z"/><path d="M414.96 351.19L419.86 357.21L416.73 361.49L411.84 355.8Z"/><path d="M422.98 351.25L427.87 355.86L424.75 361.26L419.86 357.21Z"/><path d="M431 349.39L435.89 351.16L432.77 358.61L427.87 355.86Z"/><path d="M439.02 345.93L443.91 345.34L440.79 351.9L435.89 351.16Z"/><path d="M447.04 345.7L451.93 344.84L448.8 345.21L443.91 345.34Z"/><path d="M455.06 350.26L459.95 349.19L456.82 343.05L451.93 344.84Z"/><path d="M463.08 356.69L467.97 355.11L464.84 348.96L459.95 349.19Z"/><path d="M378 356.48L382.89 349.71L379.76 348.61L374.87 355.23Z"/><path d="M386.01 351.87L390.91 345.6L387.78 343.54L382.89 349.71Z"/><path d="M394.03 346.86L398.93 346.08L395.8 345.26L390.91 345.6Z"/><path d="M402.05 345.99L406.94 348.62L403.82 350.69L398.93 346.08Z"/><path d="M410.07 347.22L414.96 351.19L411.84 355.8L406.94 348.62Z"/><path d="M418.09 347.61L422.98 351.25L419.86 357.21L414.96 351.19Z"/><path d="M426.11 347.74L431 349.39L427.87 355.86L422.98 351.25Z"/><path d="M434.13 346.89L439.02 345.93L435.89 351.16L431 349.39Z"/><path d="M442.15 347.81L447.04 345.7L443.91 345.34L439.02 345.93Z"/><path d="M450.17 352.45L455.06 350.26L451.93 344.84L447.04 345.7Z"/><path d="M458.19 357.76L463.08 356.69L459.95 349.19L455.06 350.26Z"/><path d="M381.12 358.67L386.01 351.87L382.89 349.71L378 356.48Z"/><path d="M389.14 353.68L394.03 346.86L390.91 345.6L386.01 351.87Z"/><path d="M397.16 349.02L402.05 345.99L398.93 346.08L394.03 346.86Z"/><path d="M405.18 348.36L410.07 347.22L406.94 348.62L402.05 345.99Z"/><path d="M413.2 347.45L418.09 347.61L414.96 351.19L410.07 347.22Z"/><path d="M421.22 347.81L426.11 347.74L422.98 351.25L418.09 347.61Z"/><path d="M429.24 348.39L434.13 346.89L431 349.39L426.11 347.74Z"/><path d="M437.25 350.43L442.15 347.81L439.02 345.93L434.13 346.89Z"/><path d="M445.27 354.47L450.17 352.45L447.04 345.7L442.15 347.81Z"/><path d="M453.29 359.59L458.19 357.76L455.06 350.26L450.17 352.45Z"/><path d="M384.25 360.47L389.14 353.68L386.01 351.87L381.12 358.67Z"/><path d="M392.27 356.54L397.16 349.02L394.03 346.86L389.14 353.68Z"/><path d="M400.29 353.69L405.18 348.36L402.05 345.99L397.16 349.02Z"/><path d="M408.31 351.95L413.2 347.45L410.07 347.22L405.18 348.36Z"/><path d="M416.32 350.6L421.22 347.81L418.09 347.61L413.2 347.45Z"/><path d="M424.34 351.86L429.24 348.39L426.11 347.74L421.22 347.81Z"/><path d="M432.36 354.34L437.25 350.43L434.13 346.89L429.24 348.39Z"/><path d="M440.38 357.11L445.27 354.47L442.15 347.81L437.25 350.43Z"/><path d="M448.4 361.27L453.29 359.59L450.17 352.45L445.27 354.47Z"/><path d="M387.38 361.97L392.27 356.54L389.14 353.68L384.25 360.47Z"/><path d="M395.39 360.72L400.29 353.69L397.16 349.02L392.27 356.54Z"/><path d="M403.41 358.3L408.31 351.95L405.18 348.36L400.29 353.69Z"/><path d="M411.43 356.23L416.32 350.6L413.2 347.45L408.31 351.95Z"/><path d="M419.45 356.83L424.34 351.86L421.22 347.81L416.32 350.6Z"/><path d="M427.47 358.31L432.36 354.34L429.24 348.39L424.34 351.86Z"/><path d="M435.49 360.79L440.38 357.11L437.25 350.43L432.36 354.34Z"/><path d="M443.51 363.49L448.4 361.27L445.27 354.47L440.38 357.11Z"/><path d="M390.5 364.54L395.39 360.72L392.27 356.54L387.38 361.97Z"/><path d="M398.52 364.72L403.41 358.3L400.29 353.69L395.39 360.72Z"/><path d="M406.54 362.39L411.43 356.23L408.31 351.95L403.41 358.3Z"/><path d="M414.56 361.92L419.45 356.83L416.32 350.6L411.43 356.23Z"/><path d="M422.58 362.93L427.47 358.31L424.34 351.86L419.45 356.83Z"/><path d="M430.6 364.15L435.49 360.79L432.36 354.34L427.47 358.31Z"/><path d="M438.62 366.11L443.51 363.49L440.38 357.11L435.49 360.79Z"/><path d="M393.63 366.54L398.52 364.72L395.39 360.72L390.5 364.54Z"/><path d="M401.65 366.41L406.54 362.39L403.41 358.3L398.52 364.72Z"/><path d="M409.67 366.26L414.56 361.92L411.43 356.23L406.54 362.39Z"/><path d="M417.69 366.11L422.58 362.93L419.45 356.83L414.56 361.92Z"/><path d="M425.71 366.91L430.6 364.15L427.47 358.31L422.58 362.93Z"/><path d="M433.72 366.88L438.62 366.11L435.49 360.79L430.6 364.15Z"/><path d="M396.76 366.54L401.65 366.41L398.52 364.72L393.63 366.54Z"/><path d="M404.78 367.06L409.67 366.26L406.54 362.39L401.65 366.41Z"/><path d="M412.79 366.89L417.69 366.11L414.56 361.92L409.67 366.26Z"/><path d="M420.81 367.59L425.71 366.91L422.58 362.93L417.69 366.11Z"/><path d="M428.83 366.9L433.72 366.88L430.6 364.15L425.71 366.91Z"/><path d="M399.88 365.71L404.78 367.06L401.65 366.41L396.76 366.54Z"/><path d="M407.9 366.05L412.79 366.89L409.67 366.26L404.78 367.06Z"/><path d="M415.92 366.37L420.81 367.59L417.69 366.11L412.79 366.89Z"/><path d="M423.94 366.34L428.83 366.9L425.71 366.91L420.81 367.59Z"/><path d="M403.01 364.1L407.9 366.05L404.78 367.06L399.88 365.71Z"/><path d="M411.03 364.79L415.92 366.37L412.79 366.89L407.9 366.05Z"/><path d="M419.05 364.88L423.94 366.34L420.81 367.59L415.92 366.37Z"/><path d="M406.14 363.07L411.03 364.79L407.9 366.05L403.01 364.1Z"/><path d="M414.16 363.53L419.05 364.88L415.92 366.37L411.03 364.79Z"/><path d="M409.26 363.77L414.16 363.53L411.03 364.79L406.14 363.07Z"/></g>
<g font-family="&quot;Liberation Sans&quot;, sans-serif" font-size="6.7" fill="#262626" stroke="#262626" stroke-width="0.12"><text x="308.69" y="351.92" text-anchor="end">-20</text><text x="308.69" y="328.42" text-anchor="end">0</text><text x="308.69" y="304.92" text-anchor="end">20</text><text x="308.69" y="281.42" text-anchor="end">40</text><text x="308.69" y="257.92" text-anchor="end">60</text><text x="401.8" y="403.41" text-anchor="end">0</text><text x="370.53" y="388.88" text-anchor="end">10</text><text x="339.26" y="374.35" text-anchor="end">20</text><text x="307.99" y="359.82" text-anchor="end">30</text><text x="413.1" y="403.81">0</text><text x="437.56" y="397.09">5</text><text x="462.02" y="390.37">10</text><text x="486.48" y="383.65">15</text><text x="510.94" y="376.93">20</text><text x="535.4" y="370.21">25</text></g>
<text transform="translate(406.9 420.7) scale(0.98 1)" text-anchor="middle" font-family="&quot;Liberation Serif&quot;, serif" font-size="14.0" fill="#000">(<tspan font-weight="bold" font-size="12.8">d</tspan>)</text>
</svg></body></html>
